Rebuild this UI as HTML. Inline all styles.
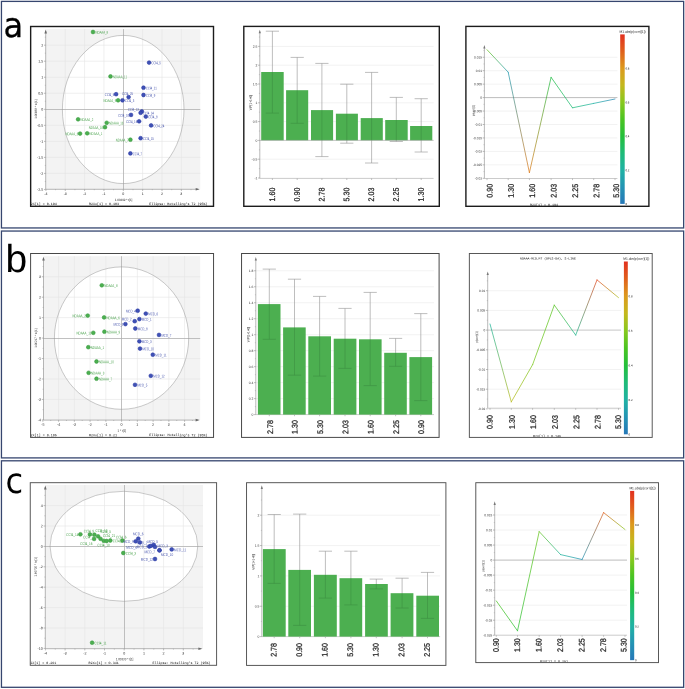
<!DOCTYPE html>
<html lang="en"><head><meta charset="utf-8"><title>OPLS-DA score plots, VIP and loading plots</title>
<style>
html,body{margin:0;padding:0;background:#fff;}
body{width:685px;height:689px;overflow:hidden;font-family:"Liberation Sans",sans-serif;}
svg{display:block;filter:blur(0.3px);}
text{text-rendering:geometricPrecision}
.s{font-family:"Liberation Sans",sans-serif}
.m{font-family:"Liberation Mono",monospace}
.d{font-family:"DejaVu Sans","Liberation Sans",sans-serif}
</style></head><body>
<svg width="685" height="689" viewBox="0 0 685 689">
<rect width="685" height="689" fill="#fff"/>
<rect x="1.45" y="1.4" width="682.2" height="226.55" fill="none" stroke="#36466f" stroke-width="1.3"/>
<rect x="1.45" y="231.05" width="682.2" height="226.85" fill="none" stroke="#36466f" stroke-width="1.3"/>
<rect x="1.45" y="460.8" width="682.2" height="226.5" fill="none" stroke="#36466f" stroke-width="1.3"/>
<text class="d" transform="translate(3.55 36.6) scale(0.942 1)" font-size="34.1" fill="#000" stroke="#000" stroke-width="0.3">a</text>
<text class="s" transform="translate(5.43 272.1)" font-size="38.96" fill="#000">b</text>
<text class="d" transform="translate(5.5 493.0) scale(0.905 1)" font-size="35.4" fill="#000">c</text>
<clipPath id="c1"><rect x="30.65" y="26.5" width="182.85" height="179.8"/></clipPath>
<rect x="45.7" y="29.1" width="154.6" height="160.2" fill="#f3f3f3"/>
<ellipse cx="123.2" cy="109.5" rx="60.8" ry="74.1" fill="#fff"/>
<path d="M65.25 29.1L65.25 189.3" stroke="#e4e4e4" stroke-width="0.6" />
<path d="M84.6 29.1L84.6 189.3" stroke="#e4e4e4" stroke-width="0.6" />
<path d="M103.95 29.1L103.95 189.3" stroke="#e4e4e4" stroke-width="0.6" />
<path d="M142.65 29.1L142.65 189.3" stroke="#e4e4e4" stroke-width="0.6" />
<path d="M162 29.1L162 189.3" stroke="#e4e4e4" stroke-width="0.6" />
<path d="M181.35 29.1L181.35 189.3" stroke="#e4e4e4" stroke-width="0.6" />
<path d="M45.7 173.42L200.3 173.42" stroke="#e4e4e4" stroke-width="0.6" />
<path d="M45.7 157.39L200.3 157.39" stroke="#e4e4e4" stroke-width="0.6" />
<path d="M45.7 141.36L200.3 141.36" stroke="#e4e4e4" stroke-width="0.6" />
<path d="M45.7 125.33L200.3 125.33" stroke="#e4e4e4" stroke-width="0.6" />
<path d="M45.7 93.27L200.3 93.27" stroke="#e4e4e4" stroke-width="0.6" />
<path d="M45.7 77.24L200.3 77.24" stroke="#e4e4e4" stroke-width="0.6" />
<path d="M45.7 61.21L200.3 61.21" stroke="#e4e4e4" stroke-width="0.6" />
<path d="M45.7 45.18L200.3 45.18" stroke="#e4e4e4" stroke-width="0.6" />
<path d="M123.5 29.1L123.5 189.3" stroke="#b0b0b0" stroke-width="0.8" />
<path d="M45.7 109.5L200.3 109.5" stroke="#b0b0b0" stroke-width="0.8" />
<ellipse cx="123.2" cy="109.5" rx="60.8" ry="74.1" fill="none" stroke="#949494" stroke-width="0.5"/>
<path d="M45.7 31.1L45.7 189.3" stroke="#909090" stroke-width="0.65" />
<path d="M45.7 189.3L198.3 189.3" stroke="#909090" stroke-width="0.65" />
<path d="M44.4 33.5L45.7 29.6L47 33.5Z" fill="#6a6a6a"/>
<path d="M195.7 188L199.7 189.3L195.7 190.6Z" fill="#6a6a6a"/>
<path d="M45.9 189.3L45.9 191" stroke="#909090" stroke-width="0.6" />
<text class="s" transform="translate(45.9 195) rotate(0.05)" font-size="3.6" fill="#222" text-anchor="middle" >-4</text>
<path d="M65.25 189.3L65.25 191" stroke="#909090" stroke-width="0.6" />
<text class="s" transform="translate(65.25 195) rotate(0.05)" font-size="3.6" fill="#222" text-anchor="middle" >-3</text>
<path d="M84.6 189.3L84.6 191" stroke="#909090" stroke-width="0.6" />
<text class="s" transform="translate(84.6 195) rotate(0.05)" font-size="3.6" fill="#222" text-anchor="middle" >-2</text>
<path d="M103.95 189.3L103.95 191" stroke="#909090" stroke-width="0.6" />
<text class="s" transform="translate(103.95 195) rotate(0.05)" font-size="3.6" fill="#222" text-anchor="middle" >-1</text>
<path d="M123.3 189.3L123.3 191" stroke="#909090" stroke-width="0.6" />
<text class="s" transform="translate(123.3 195) rotate(0.05)" font-size="3.6" fill="#222" text-anchor="middle" >0</text>
<path d="M142.65 189.3L142.65 191" stroke="#909090" stroke-width="0.6" />
<text class="s" transform="translate(142.65 195) rotate(0.05)" font-size="3.6" fill="#222" text-anchor="middle" >1</text>
<path d="M162 189.3L162 191" stroke="#909090" stroke-width="0.6" />
<text class="s" transform="translate(162 195) rotate(0.05)" font-size="3.6" fill="#222" text-anchor="middle" >2</text>
<path d="M181.35 189.3L181.35 191" stroke="#909090" stroke-width="0.6" />
<text class="s" transform="translate(181.35 195) rotate(0.05)" font-size="3.6" fill="#222" text-anchor="middle" >3</text>
<path d="M55.57 189.3L55.57 190.2" stroke="#909090" stroke-width="0.5" />
<path d="M74.92 189.3L74.92 190.2" stroke="#909090" stroke-width="0.5" />
<path d="M94.27 189.3L94.27 190.2" stroke="#909090" stroke-width="0.5" />
<path d="M113.62 189.3L113.62 190.2" stroke="#909090" stroke-width="0.5" />
<path d="M132.97 189.3L132.97 190.2" stroke="#909090" stroke-width="0.5" />
<path d="M152.32 189.3L152.32 190.2" stroke="#909090" stroke-width="0.5" />
<path d="M171.68 189.3L171.68 190.2" stroke="#909090" stroke-width="0.5" />
<path d="M191.03 189.3L191.03 190.2" stroke="#909090" stroke-width="0.5" />
<path d="M44 189.45L45.7 189.45" stroke="#909090" stroke-width="0.6" />
<text class="s" transform="translate(43.2 190.75) rotate(0.05)" font-size="3.6" fill="#222" text-anchor="end" >-2.5</text>
<path d="M44 173.42L45.7 173.42" stroke="#909090" stroke-width="0.6" />
<text class="s" transform="translate(43.2 174.72) rotate(0.05)" font-size="3.6" fill="#222" text-anchor="end" >-2</text>
<path d="M44 157.39L45.7 157.39" stroke="#909090" stroke-width="0.6" />
<text class="s" transform="translate(43.2 158.69) rotate(0.05)" font-size="3.6" fill="#222" text-anchor="end" >-1.5</text>
<path d="M44 141.36L45.7 141.36" stroke="#909090" stroke-width="0.6" />
<text class="s" transform="translate(43.2 142.66) rotate(0.05)" font-size="3.6" fill="#222" text-anchor="end" >-1</text>
<path d="M44 125.33L45.7 125.33" stroke="#909090" stroke-width="0.6" />
<text class="s" transform="translate(43.2 126.63) rotate(0.05)" font-size="3.6" fill="#222" text-anchor="end" >-0.5</text>
<path d="M44 109.3L45.7 109.3" stroke="#909090" stroke-width="0.6" />
<text class="s" transform="translate(43.2 110.6) rotate(0.05)" font-size="3.6" fill="#222" text-anchor="end" >0</text>
<path d="M44 93.27L45.7 93.27" stroke="#909090" stroke-width="0.6" />
<text class="s" transform="translate(43.2 94.57) rotate(0.05)" font-size="3.6" fill="#222" text-anchor="end" >0.5</text>
<path d="M44 77.24L45.7 77.24" stroke="#909090" stroke-width="0.6" />
<text class="s" transform="translate(43.2 78.54) rotate(0.05)" font-size="3.6" fill="#222" text-anchor="end" >1</text>
<path d="M44 61.21L45.7 61.21" stroke="#909090" stroke-width="0.6" />
<text class="s" transform="translate(43.2 62.51) rotate(0.05)" font-size="3.6" fill="#222" text-anchor="end" >1.5</text>
<path d="M44 45.18L45.7 45.18" stroke="#909090" stroke-width="0.6" />
<text class="s" transform="translate(43.2 46.48) rotate(0.05)" font-size="3.6" fill="#222" text-anchor="end" >2</text>
<path d="M44.8 181.44L45.7 181.44" stroke="#909090" stroke-width="0.5" />
<path d="M44.8 165.41L45.7 165.41" stroke="#909090" stroke-width="0.5" />
<path d="M44.8 149.38L45.7 149.38" stroke="#909090" stroke-width="0.5" />
<path d="M44.8 133.34L45.7 133.34" stroke="#909090" stroke-width="0.5" />
<path d="M44.8 117.31L45.7 117.31" stroke="#909090" stroke-width="0.5" />
<path d="M44.8 101.28L45.7 101.28" stroke="#909090" stroke-width="0.5" />
<path d="M44.8 85.25L45.7 85.25" stroke="#909090" stroke-width="0.5" />
<path d="M44.8 69.22L45.7 69.22" stroke="#909090" stroke-width="0.5" />
<path d="M44.8 53.19L45.7 53.19" stroke="#909090" stroke-width="0.5" />
<path d="M44.8 37.16L45.7 37.16" stroke="#909090" stroke-width="0.5" />
<circle cx="93.0" cy="32.0" r="1.9" fill="#4caf50" stroke="#379a3e" stroke-width="0.55"/>
<circle cx="110.5" cy="76.4" r="1.9" fill="#4caf50" stroke="#379a3e" stroke-width="0.55"/>
<circle cx="118.1" cy="100.3" r="1.9" fill="#4caf50" stroke="#379a3e" stroke-width="0.55"/>
<circle cx="78.1" cy="119.3" r="1.9" fill="#4caf50" stroke="#379a3e" stroke-width="0.55"/>
<circle cx="106.7" cy="122.8" r="1.9" fill="#4caf50" stroke="#379a3e" stroke-width="0.55"/>
<circle cx="105.0" cy="127.2" r="1.9" fill="#4caf50" stroke="#379a3e" stroke-width="0.55"/>
<circle cx="80.1" cy="133.6" r="1.9" fill="#4caf50" stroke="#379a3e" stroke-width="0.55"/>
<circle cx="87.2" cy="133.3" r="1.9" fill="#4caf50" stroke="#379a3e" stroke-width="0.55"/>
<circle cx="130.4" cy="139.7" r="1.9" fill="#4caf50" stroke="#379a3e" stroke-width="0.55"/>
<circle cx="149.1" cy="62.6" r="1.9" fill="#3f51b5" stroke="#2736a4" stroke-width="0.55"/>
<circle cx="143.5" cy="87.7" r="1.9" fill="#3f51b5" stroke="#2736a4" stroke-width="0.55"/>
<circle cx="143.5" cy="95.0" r="1.9" fill="#3f51b5" stroke="#2736a4" stroke-width="0.55"/>
<circle cx="116.1" cy="94.2" r="1.9" fill="#3f51b5" stroke="#2736a4" stroke-width="0.55"/>
<circle cx="128.6" cy="97.1" r="1.9" fill="#3f51b5" stroke="#2736a4" stroke-width="0.55"/>
<circle cx="122.5" cy="100.3" r="1.9" fill="#3f51b5" stroke="#2736a4" stroke-width="0.55"/>
<circle cx="141.8" cy="111.4" r="1.9" fill="#3f51b5" stroke="#2736a4" stroke-width="0.55"/>
<circle cx="140.6" cy="112.8" r="1.9" fill="#3f51b5" stroke="#2736a4" stroke-width="0.55"/>
<circle cx="131.0" cy="114.9" r="1.9" fill="#3f51b5" stroke="#2736a4" stroke-width="0.55"/>
<circle cx="145.8" cy="116.6" r="1.9" fill="#3f51b5" stroke="#2736a4" stroke-width="0.55"/>
<circle cx="139.1" cy="121.3" r="1.9" fill="#3f51b5" stroke="#2736a4" stroke-width="0.55"/>
<circle cx="151.1" cy="125.4" r="1.9" fill="#3f51b5" stroke="#2736a4" stroke-width="0.55"/>
<circle cx="140.6" cy="138.2" r="1.9" fill="#3f51b5" stroke="#2736a4" stroke-width="0.55"/>
<circle cx="130.4" cy="153.4" r="1.9" fill="#3f51b5" stroke="#2736a4" stroke-width="0.55"/>
<text class="s" transform="translate(95.4 33.75) rotate(0.05) scale(0.7 1)" font-size="4.0" fill="#4ba34e" >NDAAA_8</text>
<text class="s" transform="translate(112.9 78.15) rotate(0.05) scale(0.7 1)" font-size="4.0" fill="#4ba34e" >NDAAA_11</text>
<text class="s" transform="translate(116.2 102.05) rotate(0.05) scale(0.7 1)" font-size="4.0" fill="#4ba34e" text-anchor="end" >NDAAA_9</text>
<text class="s" transform="translate(80.5 121.05) rotate(0.05) scale(0.7 1)" font-size="4.0" fill="#4ba34e" >NDAAA_2</text>
<text class="s" transform="translate(109.1 124.55) rotate(0.05) scale(0.7 1)" font-size="4.0" fill="#4ba34e" >NDAAA_13</text>
<text class="s" transform="translate(103.1 128.95) rotate(0.05) scale(0.7 1)" font-size="4.0" fill="#4ba34e" text-anchor="end" >NDAAA_10</text>
<text class="s" transform="translate(78.2 135.35) rotate(0.05) scale(0.7 1)" font-size="4.0" fill="#4ba34e" text-anchor="end" >NDAAA_6</text>
<text class="s" transform="translate(89.6 135.05) rotate(0.05) scale(0.7 1)" font-size="4.0" fill="#4ba34e" >NDAAA_1</text>
<text class="s" transform="translate(128.5 141.45) rotate(0.05) scale(0.7 1)" font-size="4.0" fill="#4ba34e" text-anchor="end" >NDAAA_7</text>
<text class="s" transform="translate(151.5 64.35) rotate(0.05) scale(0.7 1)" font-size="4.0" fill="#4755ad" >CCl4_5</text>
<text class="s" transform="translate(145.9 89.45) rotate(0.05) scale(0.7 1)" font-size="4.0" fill="#4755ad" >CCl4_21</text>
<text class="s" transform="translate(145.9 96.75) rotate(0.05) scale(0.7 1)" font-size="4.0" fill="#4755ad" >CCl4_9</text>
<text class="s" transform="translate(114.2 95.95) rotate(0.05) scale(0.7 1)" font-size="4.0" fill="#4755ad" text-anchor="end" >CCl4_6</text>
<text class="s" transform="translate(127.6 95.1) rotate(0.05) scale(0.7 1)" font-size="4.0" fill="#4755ad" text-anchor="middle" >CCl4_25</text>
<text class="s" transform="translate(124.9 102.05) rotate(0.05) scale(0.7 1)" font-size="4.0" fill="#4755ad" >CCl4_3</text>
<text class="s" transform="translate(138.8 110.8) rotate(0.05) scale(0.7 1)" font-size="4.0" fill="#4755ad" text-anchor="end" >CCl4_13</text>
<text class="s" transform="translate(143 114.55) rotate(0.05) scale(0.7 1)" font-size="4.0" fill="#4755ad" >CCl4_14</text>
<text class="s" transform="translate(129.1 116.65) rotate(0.05) scale(0.7 1)" font-size="4.0" fill="#4755ad" text-anchor="end" >CCl4_10</text>
<text class="s" transform="translate(148.2 118.35) rotate(0.05) scale(0.7 1)" font-size="4.0" fill="#4755ad" >CCl4_8</text>
<text class="s" transform="translate(137.2 123.05) rotate(0.05) scale(0.7 1)" font-size="4.0" fill="#4755ad" text-anchor="end" >CCl4_16</text>
<text class="s" transform="translate(153.5 127.15) rotate(0.05) scale(0.7 1)" font-size="4.0" fill="#4755ad" >CCl4_24</text>
<text class="s" transform="translate(143 139.95) rotate(0.05) scale(0.7 1)" font-size="4.0" fill="#4755ad" >CCl4_15</text>
<text class="s" transform="translate(132.8 155.15) rotate(0.05) scale(0.7 1)" font-size="4.0" fill="#4755ad" >CCl4_7</text>
<text class="s" transform="translate(123.6 200.9) rotate(0.05) scale(0.9 1)" font-size="3.3" fill="#2a2a2a" text-anchor="middle" >1.00499 * t[1]</text>
<text class="s" transform="translate(37.05 109.2) rotate(-89.95) scale(0.9 1)" font-size="3.3" fill="#2a2a2a" text-anchor="middle" >1.00088 * to[1]</text>
<g clip-path="url(#c1)">
<text class="m" transform="translate(28.65 205.05) rotate(0.05)" font-size="3.35" fill="#000" >R2X[1] = 0.194</text>
<text class="m" transform="translate(88.95 205.05) rotate(0.05)" font-size="3.35" fill="#000" >R2Xo[1] = 0.103</text>
<text class="m" transform="translate(207.5 205.05) rotate(0.05)" font-size="3.35" fill="#000" text-anchor="end" >Ellipse: Hotelling's T2 (95%)</text>
</g>
<rect x="30.65" y="26.5" width="182.85" height="179.8" fill="none" stroke="#1c1c1c" stroke-width="1.4"/>
<path d="M259.8 159.2L433.6 159.2" stroke="#ececec" stroke-width="0.7" />
<path d="M259.8 140.4L433.6 140.4" stroke="#ececec" stroke-width="0.7" />
<path d="M259.8 121.6L433.6 121.6" stroke="#ececec" stroke-width="0.7" />
<path d="M259.8 102.8L433.6 102.8" stroke="#ececec" stroke-width="0.7" />
<path d="M259.8 84L433.6 84" stroke="#ececec" stroke-width="0.7" />
<path d="M259.8 65.2L433.6 65.2" stroke="#ececec" stroke-width="0.7" />
<path d="M259.8 46.4L433.6 46.4" stroke="#ececec" stroke-width="0.7" />
<path d="M259.8 31.7L259.8 178.4" stroke="#9c9c9c" stroke-width="0.7" />
<path d="M259.8 178.4L433.6 178.4" stroke="#b4b4b4" stroke-width="0.7" />
<path d="M258.7 33.3L259.8 29.7L260.9 33.3Z" fill="#777"/>
<path d="M258.1 178L259.8 178" stroke="#8a8a8a" stroke-width="0.6" />
<text class="s" transform="translate(257.4 179.25) rotate(0.05)" font-size="3.4" fill="#333" text-anchor="end" >-1</text>
<path d="M258.1 159.2L259.8 159.2" stroke="#8a8a8a" stroke-width="0.6" />
<text class="s" transform="translate(257.4 160.45) rotate(0.05)" font-size="3.4" fill="#333" text-anchor="end" >-0.5</text>
<path d="M258.1 140.4L259.8 140.4" stroke="#8a8a8a" stroke-width="0.6" />
<text class="s" transform="translate(257.4 141.65) rotate(0.05)" font-size="3.4" fill="#333" text-anchor="end" >0</text>
<path d="M258.1 121.6L259.8 121.6" stroke="#8a8a8a" stroke-width="0.6" />
<text class="s" transform="translate(257.4 122.85) rotate(0.05)" font-size="3.4" fill="#333" text-anchor="end" >0.5</text>
<path d="M258.1 102.8L259.8 102.8" stroke="#8a8a8a" stroke-width="0.6" />
<text class="s" transform="translate(257.4 104.05) rotate(0.05)" font-size="3.4" fill="#333" text-anchor="end" >1</text>
<path d="M258.1 84L259.8 84" stroke="#8a8a8a" stroke-width="0.6" />
<text class="s" transform="translate(257.4 85.25) rotate(0.05)" font-size="3.4" fill="#333" text-anchor="end" >1.5</text>
<path d="M258.1 65.2L259.8 65.2" stroke="#8a8a8a" stroke-width="0.6" />
<text class="s" transform="translate(257.4 66.45) rotate(0.05)" font-size="3.4" fill="#333" text-anchor="end" >2</text>
<path d="M258.1 46.4L259.8 46.4" stroke="#8a8a8a" stroke-width="0.6" />
<text class="s" transform="translate(257.4 47.65) rotate(0.05)" font-size="3.4" fill="#333" text-anchor="end" >2.5</text>
<path d="M258.9 168.6L259.8 168.6" stroke="#9a9a9a" stroke-width="0.5" />
<path d="M258.9 149.8L259.8 149.8" stroke="#9a9a9a" stroke-width="0.5" />
<path d="M258.9 131L259.8 131" stroke="#9a9a9a" stroke-width="0.5" />
<path d="M258.9 112.2L259.8 112.2" stroke="#9a9a9a" stroke-width="0.5" />
<path d="M258.9 93.4L259.8 93.4" stroke="#9a9a9a" stroke-width="0.5" />
<path d="M258.9 74.6L259.8 74.6" stroke="#9a9a9a" stroke-width="0.5" />
<path d="M258.9 55.8L259.8 55.8" stroke="#9a9a9a" stroke-width="0.5" />
<path d="M258.9 37L259.8 37" stroke="#9a9a9a" stroke-width="0.5" />
<rect x="261.2" y="72" width="22.5" height="68.4" fill="#4caf50"/>
<rect x="286.1" y="90.2" width="22.1" height="50.2" fill="#4caf50"/>
<rect x="311" y="110.1" width="22.1" height="30.3" fill="#4caf50"/>
<rect x="335.9" y="113.7" width="22" height="26.7" fill="#4caf50"/>
<rect x="360.7" y="118.1" width="22.1" height="22.3" fill="#4caf50"/>
<rect x="385.2" y="120" width="22.5" height="20.4" fill="#4caf50"/>
<rect x="410.1" y="126" width="22.2" height="14.4" fill="#4caf50"/>
<path d="M259.8 140.4L433.6 140.4" stroke="#a8a8a8" stroke-width="0.6" />
<path d="M272.4 31.2L272.4 72" stroke="#969696" stroke-width="0.62" />
<path d="M272.4 72L272.4 113.1" stroke="#3e9143" stroke-width="0.62" />
<path d="M265.8 31.2L279 31.2" stroke="#969696" stroke-width="0.62" />
<path d="M265.8 113.1L279 113.1" stroke="#3e9143" stroke-width="0.62" />
<path d="M297.2 57.4L297.2 90.2" stroke="#969696" stroke-width="0.62" />
<path d="M297.2 90.2L297.2 123.3" stroke="#3e9143" stroke-width="0.62" />
<path d="M290.6 57.4L303.8 57.4" stroke="#969696" stroke-width="0.62" />
<path d="M290.6 123.3L303.8 123.3" stroke="#3e9143" stroke-width="0.62" />
<path d="M321.9 63.4L321.9 110.1" stroke="#969696" stroke-width="0.62" />
<path d="M321.9 110.1L321.9 140.4" stroke="#3e9143" stroke-width="0.62" />
<path d="M321.9 140.4L321.9 156.6" stroke="#969696" stroke-width="0.62" />
<path d="M315.3 63.4L328.5 63.4" stroke="#969696" stroke-width="0.62" />
<path d="M315.3 156.6L328.5 156.6" stroke="#969696" stroke-width="0.62" />
<path d="M346.8 84.2L346.8 113.7" stroke="#969696" stroke-width="0.62" />
<path d="M346.8 113.7L346.8 140.4" stroke="#3e9143" stroke-width="0.62" />
<path d="M346.8 140.4L346.8 143.2" stroke="#969696" stroke-width="0.62" />
<path d="M340.2 84.2L353.4 84.2" stroke="#969696" stroke-width="0.62" />
<path d="M340.2 143.2L353.4 143.2" stroke="#969696" stroke-width="0.62" />
<path d="M371.6 72.4L371.6 118.1" stroke="#969696" stroke-width="0.62" />
<path d="M371.6 118.1L371.6 140.4" stroke="#3e9143" stroke-width="0.62" />
<path d="M371.6 140.4L371.6 163" stroke="#969696" stroke-width="0.62" />
<path d="M365 72.4L378.2 72.4" stroke="#969696" stroke-width="0.62" />
<path d="M365 163L378.2 163" stroke="#969696" stroke-width="0.62" />
<path d="M396.3 97.4L396.3 120" stroke="#969696" stroke-width="0.62" />
<path d="M396.3 120L396.3 140.4" stroke="#3e9143" stroke-width="0.62" />
<path d="M396.3 140.4L396.3 141.5" stroke="#969696" stroke-width="0.62" />
<path d="M389.7 97.4L402.9 97.4" stroke="#969696" stroke-width="0.62" />
<path d="M389.7 141.5L402.9 141.5" stroke="#969696" stroke-width="0.62" />
<path d="M421.2 98.7L421.2 126" stroke="#969696" stroke-width="0.62" />
<path d="M421.2 126L421.2 140.4" stroke="#3e9143" stroke-width="0.62" />
<path d="M421.2 140.4L421.2 152" stroke="#969696" stroke-width="0.62" />
<path d="M414.6 98.7L427.8 98.7" stroke="#969696" stroke-width="0.62" />
<path d="M414.6 152L427.8 152" stroke="#969696" stroke-width="0.62" />
<path d="M272.4 178.4L272.4 180" stroke="#9a9a9a" stroke-width="0.6" />
<text class="s" transform="translate(274.9 194.5) rotate(-89.95) scale(0.875 1)" font-size="8.1" fill="#2e2e2e" text-anchor="middle" stroke="#2e2e2e" stroke-width="0.3">1.60</text>
<path d="M297.2 178.4L297.2 180" stroke="#9a9a9a" stroke-width="0.6" />
<text class="s" transform="translate(299.7 194.5) rotate(-89.95) scale(0.875 1)" font-size="8.1" fill="#2e2e2e" text-anchor="middle" stroke="#2e2e2e" stroke-width="0.3">0.90</text>
<path d="M321.9 178.4L321.9 180" stroke="#9a9a9a" stroke-width="0.6" />
<text class="s" transform="translate(324.4 194.5) rotate(-89.95) scale(0.875 1)" font-size="8.1" fill="#2e2e2e" text-anchor="middle" stroke="#2e2e2e" stroke-width="0.3">2.78</text>
<path d="M346.8 178.4L346.8 180" stroke="#9a9a9a" stroke-width="0.6" />
<text class="s" transform="translate(349.3 194.5) rotate(-89.95) scale(0.875 1)" font-size="8.1" fill="#2e2e2e" text-anchor="middle" stroke="#2e2e2e" stroke-width="0.3">5.30</text>
<path d="M371.6 178.4L371.6 180" stroke="#9a9a9a" stroke-width="0.6" />
<text class="s" transform="translate(374.1 194.5) rotate(-89.95) scale(0.875 1)" font-size="8.1" fill="#2e2e2e" text-anchor="middle" stroke="#2e2e2e" stroke-width="0.3">2.03</text>
<path d="M396.3 178.4L396.3 180" stroke="#9a9a9a" stroke-width="0.6" />
<text class="s" transform="translate(398.8 194.5) rotate(-89.95) scale(0.875 1)" font-size="8.1" fill="#2e2e2e" text-anchor="middle" stroke="#2e2e2e" stroke-width="0.3">2.25</text>
<path d="M421.2 178.4L421.2 180" stroke="#9a9a9a" stroke-width="0.6" />
<text class="s" transform="translate(423.7 194.5) rotate(-89.95) scale(0.875 1)" font-size="8.1" fill="#2e2e2e" text-anchor="middle" stroke="#2e2e2e" stroke-width="0.3">1.30</text>
<text class="s" transform="translate(251.7 102.7) rotate(-89.95) scale(0.9 1)" font-size="3.4" fill="#222" text-anchor="middle" >VIP[1+1+0]</text>
<rect x="243.8" y="26.4" width="195.5" height="179.9" fill="none" stroke="#1c1c1c" stroke-width="1.4"/>
<clipPath id="c2"><rect x="465.9" y="26.4" width="183" height="179.9"/></clipPath>
<path d="M484.4 164.85L617.4 164.85" stroke="#ececec" stroke-width="0.7" />
<path d="M484.4 151.4L617.4 151.4" stroke="#ececec" stroke-width="0.7" />
<path d="M484.4 137.95L617.4 137.95" stroke="#ececec" stroke-width="0.7" />
<path d="M484.4 124.5L617.4 124.5" stroke="#ececec" stroke-width="0.7" />
<path d="M484.4 111.05L617.4 111.05" stroke="#ececec" stroke-width="0.7" />
<path d="M484.4 84.15L617.4 84.15" stroke="#ececec" stroke-width="0.7" />
<path d="M484.4 70.7L617.4 70.7" stroke="#ececec" stroke-width="0.7" />
<path d="M484.4 57.25L617.4 57.25" stroke="#ececec" stroke-width="0.7" />
<path d="M484.4 97.6L617.4 97.6" stroke="#a0a0a0" stroke-width="0.7" />
<path d="M484.4 46.9L484.4 178.5" stroke="#9c9c9c" stroke-width="0.7" />
<path d="M484.4 178.5L617.4 178.5" stroke="#b4b4b4" stroke-width="0.7" />
<path d="M483.3 48.5L484.4 44.9L485.5 48.5Z" fill="#777"/>
<path d="M482.7 178.3L484.4 178.3" stroke="#8a8a8a" stroke-width="0.6" />
<text class="s" transform="translate(482 179.5) rotate(0.05)" font-size="3.2" fill="#333" text-anchor="end" >-0.03</text>
<path d="M482.7 164.85L484.4 164.85" stroke="#8a8a8a" stroke-width="0.6" />
<text class="s" transform="translate(482 166.05) rotate(0.05)" font-size="3.2" fill="#333" text-anchor="end" >-0.025</text>
<path d="M482.7 151.4L484.4 151.4" stroke="#8a8a8a" stroke-width="0.6" />
<text class="s" transform="translate(482 152.6) rotate(0.05)" font-size="3.2" fill="#333" text-anchor="end" >-0.02</text>
<path d="M482.7 137.95L484.4 137.95" stroke="#8a8a8a" stroke-width="0.6" />
<text class="s" transform="translate(482 139.15) rotate(0.05)" font-size="3.2" fill="#333" text-anchor="end" >-0.015</text>
<path d="M482.7 124.5L484.4 124.5" stroke="#8a8a8a" stroke-width="0.6" />
<text class="s" transform="translate(482 125.7) rotate(0.05)" font-size="3.2" fill="#333" text-anchor="end" >-0.01</text>
<path d="M482.7 111.05L484.4 111.05" stroke="#8a8a8a" stroke-width="0.6" />
<text class="s" transform="translate(482 112.25) rotate(0.05)" font-size="3.2" fill="#333" text-anchor="end" >-0.005</text>
<path d="M482.7 97.6L484.4 97.6" stroke="#8a8a8a" stroke-width="0.6" />
<text class="s" transform="translate(482 98.8) rotate(0.05)" font-size="3.2" fill="#333" text-anchor="end" >0</text>
<path d="M482.7 84.15L484.4 84.15" stroke="#8a8a8a" stroke-width="0.6" />
<text class="s" transform="translate(482 85.35) rotate(0.05)" font-size="3.2" fill="#333" text-anchor="end" >0.005</text>
<path d="M482.7 70.7L484.4 70.7" stroke="#8a8a8a" stroke-width="0.6" />
<text class="s" transform="translate(482 71.9) rotate(0.05)" font-size="3.2" fill="#333" text-anchor="end" >0.01</text>
<path d="M482.7 57.25L484.4 57.25" stroke="#8a8a8a" stroke-width="0.6" />
<text class="s" transform="translate(482 58.45) rotate(0.05)" font-size="3.2" fill="#333" text-anchor="end" >0.015</text>
<path d="M483.5 171.57L484.4 171.57" stroke="#9a9a9a" stroke-width="0.5" />
<path d="M483.5 158.12L484.4 158.12" stroke="#9a9a9a" stroke-width="0.5" />
<path d="M483.5 144.68L484.4 144.68" stroke="#9a9a9a" stroke-width="0.5" />
<path d="M483.5 131.22L484.4 131.22" stroke="#9a9a9a" stroke-width="0.5" />
<path d="M483.5 117.77L484.4 117.77" stroke="#9a9a9a" stroke-width="0.5" />
<path d="M483.5 104.32L484.4 104.32" stroke="#9a9a9a" stroke-width="0.5" />
<path d="M483.5 90.88L484.4 90.88" stroke="#9a9a9a" stroke-width="0.5" />
<path d="M483.5 77.42L484.4 77.42" stroke="#9a9a9a" stroke-width="0.5" />
<path d="M483.5 63.97L484.4 63.97" stroke="#9a9a9a" stroke-width="0.5" />
<path d="M483.5 50.52L484.4 50.52" stroke="#9a9a9a" stroke-width="0.5" />
<linearGradient id="g1" gradientUnits="userSpaceOnUse" x1="487.0" y1="49.7" x2="508.2" y2="72.2"><stop offset="0" stop-color="#6ac620"/><stop offset="1" stop-color="#239ab1"/></linearGradient>
<path d="M487.0 49.7L508.2 72.2" stroke="url(#g1)" stroke-width="0.75" stroke-linecap="round"/>
<linearGradient id="g2" gradientUnits="userSpaceOnUse" x1="508.2" y1="72.2" x2="529.4" y2="172.6"><stop offset="0" stop-color="#239ab1"/><stop offset="1" stop-color="#de7d1d"/></linearGradient>
<path d="M508.2 72.2L529.4 172.6" stroke="url(#g2)" stroke-width="0.75" stroke-linecap="round"/>
<linearGradient id="g3" gradientUnits="userSpaceOnUse" x1="529.4" y1="172.6" x2="551.1" y2="77.3"><stop offset="0" stop-color="#de7d1d"/><stop offset="1" stop-color="#23be46"/></linearGradient>
<path d="M529.4 172.6L551.1 77.3" stroke="url(#g3)" stroke-width="0.75" stroke-linecap="round"/>
<linearGradient id="g4" gradientUnits="userSpaceOnUse" x1="551.1" y1="77.3" x2="572.5" y2="107.8"><stop offset="0" stop-color="#23be46"/><stop offset="1" stop-color="#1fbb78"/></linearGradient>
<path d="M551.1 77.3L572.5 107.8" stroke="url(#g4)" stroke-width="0.75" stroke-linecap="round"/>
<linearGradient id="g5" gradientUnits="userSpaceOnUse" x1="572.5" y1="107.8" x2="593.7" y2="103.4"><stop offset="0" stop-color="#1fbb78"/><stop offset="1" stop-color="#20b2a4"/></linearGradient>
<path d="M572.5 107.8L593.7 103.4" stroke="url(#g5)" stroke-width="0.75" stroke-linecap="round"/>
<linearGradient id="g6" gradientUnits="userSpaceOnUse" x1="593.7" y1="103.4" x2="615.0" y2="99.0"><stop offset="0" stop-color="#20b2a4"/><stop offset="1" stop-color="#2586b6"/></linearGradient>
<path d="M593.7 103.4L615.0 99.0" stroke="url(#g6)" stroke-width="0.75" stroke-linecap="round"/>
<path d="M487 178.5L487 180.1" stroke="#9a9a9a" stroke-width="0.6" />
<text class="s" transform="translate(492.5 190.8) rotate(-89.95) scale(0.875 1)" font-size="8.1" fill="#2e2e2e" text-anchor="middle" stroke="#2e2e2e" stroke-width="0.3">0.90</text>
<path d="M508.2 178.5L508.2 180.1" stroke="#9a9a9a" stroke-width="0.6" />
<text class="s" transform="translate(513.7 190.8) rotate(-89.95) scale(0.875 1)" font-size="8.1" fill="#2e2e2e" text-anchor="middle" stroke="#2e2e2e" stroke-width="0.3">1.30</text>
<path d="M529.4 178.5L529.4 180.1" stroke="#9a9a9a" stroke-width="0.6" />
<text class="s" transform="translate(534.9 190.8) rotate(-89.95) scale(0.875 1)" font-size="8.1" fill="#2e2e2e" text-anchor="middle" stroke="#2e2e2e" stroke-width="0.3">1.60</text>
<path d="M551.1 178.5L551.1 180.1" stroke="#9a9a9a" stroke-width="0.6" />
<text class="s" transform="translate(556.6 190.8) rotate(-89.95) scale(0.875 1)" font-size="8.1" fill="#2e2e2e" text-anchor="middle" stroke="#2e2e2e" stroke-width="0.3">2.03</text>
<path d="M572.5 178.5L572.5 180.1" stroke="#9a9a9a" stroke-width="0.6" />
<text class="s" transform="translate(578 190.8) rotate(-89.95) scale(0.875 1)" font-size="8.1" fill="#2e2e2e" text-anchor="middle" stroke="#2e2e2e" stroke-width="0.3">2.25</text>
<path d="M593.7 178.5L593.7 180.1" stroke="#9a9a9a" stroke-width="0.6" />
<text class="s" transform="translate(599.2 190.8) rotate(-89.95) scale(0.875 1)" font-size="8.1" fill="#2e2e2e" text-anchor="middle" stroke="#2e2e2e" stroke-width="0.3">2.78</text>
<path d="M615 178.5L615 180.1" stroke="#9a9a9a" stroke-width="0.6" />
<text class="s" transform="translate(619 190.8) rotate(-89.95) scale(0.875 1)" font-size="8.1" fill="#2e2e2e" text-anchor="middle" stroke="#2e2e2e" stroke-width="0.3">5.30</text>
<text class="s" transform="translate(474.4 110.5) rotate(-89.95) scale(0.9 1)" font-size="3.1" fill="#333" text-anchor="middle" >p(corr)[1]</text>
<linearGradient id="g7" x1="0" y1="0" x2="0" y2="1"><stop offset="0" stop-color="#e2301f"/><stop offset="0.1" stop-color="#e0601c"/><stop offset="0.2" stop-color="#dc9a1e"/><stop offset="0.3" stop-color="#c4b81e"/><stop offset="0.4" stop-color="#88c81e"/><stop offset="0.5" stop-color="#4cc422"/><stop offset="0.6" stop-color="#24bf3a"/><stop offset="0.7" stop-color="#1fbb78"/><stop offset="0.8" stop-color="#20b2a4"/><stop offset="0.9" stop-color="#2494b4"/><stop offset="1" stop-color="#2678b8"/></linearGradient>
<rect x="620.2" y="34.4" width="4.5" height="169.5" fill="url(#g7)"/>
<text class="s" transform="translate(625.4 69.5) rotate(0.05)" font-size="2.9" fill="#111" >0.8</text>
<text class="s" transform="translate(625.4 103.4) rotate(0.05)" font-size="2.9" fill="#111" >0.6</text>
<text class="s" transform="translate(625.4 137.3) rotate(0.05)" font-size="2.9" fill="#111" >0.4</text>
<text class="s" transform="translate(625.4 171.2) rotate(0.05)" font-size="2.9" fill="#111" >0.2</text>
<text class="s" transform="translate(625.4 205.1) rotate(0.05)" font-size="2.9" fill="#111" >0</text>
<text class="s" transform="translate(619.5 32.7) rotate(0.05) scale(0.95 1)" font-size="3.45" fill="#111" >M1.abs(p(corr)[1])</text>
<g clip-path="url(#c2)">
<text class="m" transform="translate(530 206.1) rotate(0.05)" font-size="3.35" fill="#000" >R2X[1] = 0.194</text>
</g>
<rect x="465.9" y="26.4" width="183" height="179.9" fill="none" stroke="#1c1c1c" stroke-width="1.4"/>
<clipPath id="c3"><rect x="30.6" y="253.5" width="182.95" height="183.9"/></clipPath>
<rect x="43.5" y="256.2" width="156.7" height="163.9" fill="#f3f3f3"/>
<ellipse cx="121.55" cy="338.1" rx="67.15" ry="71.2" fill="#fff"/>
<path d="M58.6 256.2L58.6 420.1" stroke="#e4e4e4" stroke-width="0.6" />
<path d="M74.35 256.2L74.35 420.1" stroke="#e4e4e4" stroke-width="0.6" />
<path d="M90.1 256.2L90.1 420.1" stroke="#e4e4e4" stroke-width="0.6" />
<path d="M105.85 256.2L105.85 420.1" stroke="#e4e4e4" stroke-width="0.6" />
<path d="M137.35 256.2L137.35 420.1" stroke="#e4e4e4" stroke-width="0.6" />
<path d="M153.1 256.2L153.1 420.1" stroke="#e4e4e4" stroke-width="0.6" />
<path d="M168.85 256.2L168.85 420.1" stroke="#e4e4e4" stroke-width="0.6" />
<path d="M184.6 256.2L184.6 420.1" stroke="#e4e4e4" stroke-width="0.6" />
<path d="M43.5 399.45L200.2 399.45" stroke="#e4e4e4" stroke-width="0.6" />
<path d="M43.5 379L200.2 379" stroke="#e4e4e4" stroke-width="0.6" />
<path d="M43.5 358.55L200.2 358.55" stroke="#e4e4e4" stroke-width="0.6" />
<path d="M43.5 317.65L200.2 317.65" stroke="#e4e4e4" stroke-width="0.6" />
<path d="M43.5 297.2L200.2 297.2" stroke="#e4e4e4" stroke-width="0.6" />
<path d="M43.5 276.75L200.2 276.75" stroke="#e4e4e4" stroke-width="0.6" />
<path d="M121.5 256.2L121.5 420.1" stroke="#b0b0b0" stroke-width="0.8" />
<path d="M43.5 338.5L200.2 338.5" stroke="#b0b0b0" stroke-width="0.8" />
<ellipse cx="121.55" cy="338.1" rx="67.15" ry="71.2" fill="none" stroke="#949494" stroke-width="0.5"/>
<path d="M43.5 258.2L43.5 420.1" stroke="#909090" stroke-width="0.65" />
<path d="M43.5 420.1L198.2 420.1" stroke="#909090" stroke-width="0.65" />
<path d="M42.2 260.6L43.5 256.7L44.8 260.6Z" fill="#6a6a6a"/>
<path d="M195.6 418.8L199.6 420.1L195.6 421.4Z" fill="#6a6a6a"/>
<path d="M42.85 420.1L42.85 421.8" stroke="#909090" stroke-width="0.6" />
<text class="s" transform="translate(42.85 425.8) rotate(0.05)" font-size="3.6" fill="#222" text-anchor="middle" >-5</text>
<path d="M58.6 420.1L58.6 421.8" stroke="#909090" stroke-width="0.6" />
<text class="s" transform="translate(58.6 425.8) rotate(0.05)" font-size="3.6" fill="#222" text-anchor="middle" >-4</text>
<path d="M74.35 420.1L74.35 421.8" stroke="#909090" stroke-width="0.6" />
<text class="s" transform="translate(74.35 425.8) rotate(0.05)" font-size="3.6" fill="#222" text-anchor="middle" >-3</text>
<path d="M90.1 420.1L90.1 421.8" stroke="#909090" stroke-width="0.6" />
<text class="s" transform="translate(90.1 425.8) rotate(0.05)" font-size="3.6" fill="#222" text-anchor="middle" >-2</text>
<path d="M105.85 420.1L105.85 421.8" stroke="#909090" stroke-width="0.6" />
<text class="s" transform="translate(105.85 425.8) rotate(0.05)" font-size="3.6" fill="#222" text-anchor="middle" >-1</text>
<path d="M121.6 420.1L121.6 421.8" stroke="#909090" stroke-width="0.6" />
<text class="s" transform="translate(121.6 425.8) rotate(0.05)" font-size="3.6" fill="#222" text-anchor="middle" >0</text>
<path d="M137.35 420.1L137.35 421.8" stroke="#909090" stroke-width="0.6" />
<text class="s" transform="translate(137.35 425.8) rotate(0.05)" font-size="3.6" fill="#222" text-anchor="middle" >1</text>
<path d="M153.1 420.1L153.1 421.8" stroke="#909090" stroke-width="0.6" />
<text class="s" transform="translate(153.1 425.8) rotate(0.05)" font-size="3.6" fill="#222" text-anchor="middle" >2</text>
<path d="M168.85 420.1L168.85 421.8" stroke="#909090" stroke-width="0.6" />
<text class="s" transform="translate(168.85 425.8) rotate(0.05)" font-size="3.6" fill="#222" text-anchor="middle" >3</text>
<path d="M184.6 420.1L184.6 421.8" stroke="#909090" stroke-width="0.6" />
<text class="s" transform="translate(184.6 425.8) rotate(0.05)" font-size="3.6" fill="#222" text-anchor="middle" >4</text>
<path d="M50.72 420.1L50.72 421" stroke="#909090" stroke-width="0.5" />
<path d="M66.47 420.1L66.47 421" stroke="#909090" stroke-width="0.5" />
<path d="M82.22 420.1L82.22 421" stroke="#909090" stroke-width="0.5" />
<path d="M97.97 420.1L97.97 421" stroke="#909090" stroke-width="0.5" />
<path d="M113.72 420.1L113.72 421" stroke="#909090" stroke-width="0.5" />
<path d="M129.47 420.1L129.47 421" stroke="#909090" stroke-width="0.5" />
<path d="M145.22 420.1L145.22 421" stroke="#909090" stroke-width="0.5" />
<path d="M160.97 420.1L160.97 421" stroke="#909090" stroke-width="0.5" />
<path d="M176.72 420.1L176.72 421" stroke="#909090" stroke-width="0.5" />
<path d="M192.47 420.1L192.47 421" stroke="#909090" stroke-width="0.5" />
<path d="M41.8 419.9L43.5 419.9" stroke="#909090" stroke-width="0.6" />
<text class="s" transform="translate(41 421.2) rotate(0.05)" font-size="3.6" fill="#222" text-anchor="end" >-4</text>
<path d="M41.8 399.45L43.5 399.45" stroke="#909090" stroke-width="0.6" />
<text class="s" transform="translate(41 400.75) rotate(0.05)" font-size="3.6" fill="#222" text-anchor="end" >-3</text>
<path d="M41.8 379L43.5 379" stroke="#909090" stroke-width="0.6" />
<text class="s" transform="translate(41 380.3) rotate(0.05)" font-size="3.6" fill="#222" text-anchor="end" >-2</text>
<path d="M41.8 358.55L43.5 358.55" stroke="#909090" stroke-width="0.6" />
<text class="s" transform="translate(41 359.85) rotate(0.05)" font-size="3.6" fill="#222" text-anchor="end" >-1</text>
<path d="M41.8 338.1L43.5 338.1" stroke="#909090" stroke-width="0.6" />
<text class="s" transform="translate(41 339.4) rotate(0.05)" font-size="3.6" fill="#222" text-anchor="end" >0</text>
<path d="M41.8 317.65L43.5 317.65" stroke="#909090" stroke-width="0.6" />
<text class="s" transform="translate(41 318.95) rotate(0.05)" font-size="3.6" fill="#222" text-anchor="end" >1</text>
<path d="M41.8 297.2L43.5 297.2" stroke="#909090" stroke-width="0.6" />
<text class="s" transform="translate(41 298.5) rotate(0.05)" font-size="3.6" fill="#222" text-anchor="end" >2</text>
<path d="M41.8 276.75L43.5 276.75" stroke="#909090" stroke-width="0.6" />
<text class="s" transform="translate(41 278.05) rotate(0.05)" font-size="3.6" fill="#222" text-anchor="end" >3</text>
<path d="M42.6 409.68L43.5 409.68" stroke="#909090" stroke-width="0.5" />
<path d="M42.6 389.23L43.5 389.23" stroke="#909090" stroke-width="0.5" />
<path d="M42.6 368.78L43.5 368.78" stroke="#909090" stroke-width="0.5" />
<path d="M42.6 348.33L43.5 348.33" stroke="#909090" stroke-width="0.5" />
<path d="M42.6 327.88L43.5 327.88" stroke="#909090" stroke-width="0.5" />
<path d="M42.6 307.43L43.5 307.43" stroke="#909090" stroke-width="0.5" />
<path d="M42.6 286.98L43.5 286.98" stroke="#909090" stroke-width="0.5" />
<path d="M42.6 266.53L43.5 266.53" stroke="#909090" stroke-width="0.5" />
<circle cx="101.8" cy="285.3" r="1.9" fill="#4caf50" stroke="#379a3e" stroke-width="0.55"/>
<circle cx="87.7" cy="315.6" r="1.9" fill="#4caf50" stroke="#379a3e" stroke-width="0.55"/>
<circle cx="104.1" cy="317.4" r="1.9" fill="#4caf50" stroke="#379a3e" stroke-width="0.55"/>
<circle cx="93.3" cy="332.8" r="1.9" fill="#4caf50" stroke="#379a3e" stroke-width="0.55"/>
<circle cx="104.4" cy="331.7" r="1.9" fill="#4caf50" stroke="#379a3e" stroke-width="0.55"/>
<circle cx="88.3" cy="347.2" r="1.9" fill="#4caf50" stroke="#379a3e" stroke-width="0.55"/>
<circle cx="96.5" cy="361.5" r="1.9" fill="#4caf50" stroke="#379a3e" stroke-width="0.55"/>
<circle cx="88.6" cy="372.8" r="1.9" fill="#4caf50" stroke="#379a3e" stroke-width="0.55"/>
<circle cx="96.5" cy="378.7" r="1.9" fill="#4caf50" stroke="#379a3e" stroke-width="0.55"/>
<circle cx="137.7" cy="310.7" r="1.9" fill="#3f51b5" stroke="#2736a4" stroke-width="0.55"/>
<circle cx="145.8" cy="313.6" r="1.9" fill="#3f51b5" stroke="#2736a4" stroke-width="0.55"/>
<circle cx="139.4" cy="319.1" r="1.9" fill="#3f51b5" stroke="#2736a4" stroke-width="0.55"/>
<circle cx="134.7" cy="321.2" r="1.9" fill="#3f51b5" stroke="#2736a4" stroke-width="0.55"/>
<circle cx="125.4" cy="324.1" r="1.9" fill="#3f51b5" stroke="#2736a4" stroke-width="0.55"/>
<circle cx="135.3" cy="328.5" r="1.9" fill="#3f51b5" stroke="#2736a4" stroke-width="0.55"/>
<circle cx="159.0" cy="334.9" r="1.9" fill="#3f51b5" stroke="#2736a4" stroke-width="0.55"/>
<circle cx="139.4" cy="341.3" r="1.9" fill="#3f51b5" stroke="#2736a4" stroke-width="0.55"/>
<circle cx="140.0" cy="348.6" r="1.9" fill="#3f51b5" stroke="#2736a4" stroke-width="0.55"/>
<circle cx="152.8" cy="354.7" r="1.9" fill="#3f51b5" stroke="#2736a4" stroke-width="0.55"/>
<circle cx="150.8" cy="375.8" r="1.9" fill="#3f51b5" stroke="#2736a4" stroke-width="0.55"/>
<circle cx="135.0" cy="384.8" r="1.9" fill="#3f51b5" stroke="#2736a4" stroke-width="0.55"/>
<text class="s" transform="translate(104.2 287.05) rotate(0.05) scale(0.73 1)" font-size="4.0" fill="#4ba34e" >NDAAA_8</text>
<text class="s" transform="translate(85.8 317.35) rotate(0.05) scale(0.73 1)" font-size="4.0" fill="#4ba34e" text-anchor="end" >NDAAA_2</text>
<text class="s" transform="translate(106.5 319.15) rotate(0.05) scale(0.73 1)" font-size="4.0" fill="#4ba34e" >NDAAA_6</text>
<text class="s" transform="translate(91.4 334.55) rotate(0.05) scale(0.73 1)" font-size="4.0" fill="#4ba34e" text-anchor="end" >NDAAA_13</text>
<text class="s" transform="translate(106.8 333.45) rotate(0.05) scale(0.73 1)" font-size="4.0" fill="#4ba34e" >NDAAA_9</text>
<text class="s" transform="translate(90.7 348.95) rotate(0.05) scale(0.73 1)" font-size="4.0" fill="#4ba34e" >NDAAA_1</text>
<text class="s" transform="translate(98.9 363.25) rotate(0.05) scale(0.73 1)" font-size="4.0" fill="#4ba34e" >NDAAA_10</text>
<text class="s" transform="translate(91 374.55) rotate(0.05) scale(0.73 1)" font-size="4.0" fill="#4ba34e" >NDAAA_3</text>
<text class="s" transform="translate(98.9 380.45) rotate(0.05) scale(0.73 1)" font-size="4.0" fill="#4ba34e" >NDAAA_7</text>
<text class="s" transform="translate(135.8 312.45) rotate(0.05) scale(0.73 1)" font-size="4.0" fill="#4755ad" text-anchor="end" >MCD_4</text>
<text class="s" transform="translate(148.2 315.35) rotate(0.05) scale(0.73 1)" font-size="4.0" fill="#4755ad" >MCD_6</text>
<text class="s" transform="translate(141.8 320.85) rotate(0.05) scale(0.73 1)" font-size="4.0" fill="#4755ad" >MCD_1</text>
<text class="s" transform="translate(131.7 320.6) rotate(0.05) scale(0.73 1)" font-size="4.0" fill="#4755ad" text-anchor="end" >MCD_2</text>
<text class="s" transform="translate(123.5 325.85) rotate(0.05) scale(0.73 1)" font-size="4.0" fill="#4755ad" text-anchor="end" >MCD_9</text>
<text class="s" transform="translate(137.7 330.25) rotate(0.05) scale(0.73 1)" font-size="4.0" fill="#4755ad" >MCD_8</text>
<text class="s" transform="translate(161.4 336.65) rotate(0.05) scale(0.73 1)" font-size="4.0" fill="#4755ad" >MCD_7</text>
<text class="s" transform="translate(141.8 343.05) rotate(0.05) scale(0.73 1)" font-size="4.0" fill="#4755ad" >MCD_3</text>
<text class="s" transform="translate(142.4 350.35) rotate(0.05) scale(0.73 1)" font-size="4.0" fill="#4755ad" >MCD_10</text>
<text class="s" transform="translate(155.2 356.45) rotate(0.05) scale(0.73 1)" font-size="4.0" fill="#4755ad" >MCD_11</text>
<text class="s" transform="translate(153.2 377.55) rotate(0.05) scale(0.73 1)" font-size="4.0" fill="#4755ad" >MCD_12</text>
<text class="s" transform="translate(137.4 386.55) rotate(0.05) scale(0.73 1)" font-size="4.0" fill="#4755ad" >MCD_5</text>
<text class="s" transform="translate(121.9 431.7) rotate(0.05) scale(0.9 1)" font-size="3.3" fill="#2a2a2a" text-anchor="middle" >1 * t[1]</text>
<text class="s" transform="translate(37 338.15) rotate(-89.95) scale(0.9 1)" font-size="3.3" fill="#2a2a2a" text-anchor="middle" >1.00217 * to[1]</text>
<g clip-path="url(#c3)">
<text class="m" transform="translate(28.6 436.15) rotate(0.05)" font-size="3.35" fill="#000" >R2X[1] = 0.106</text>
<text class="m" transform="translate(88.9 436.15) rotate(0.05)" font-size="3.35" fill="#000" >R2Xo[1] = 0.21</text>
<text class="m" transform="translate(207.55 436.15) rotate(0.05)" font-size="3.35" fill="#000" text-anchor="end" >Ellipse: Hotelling's T2 (95%)</text>
</g>
<rect x="30.6" y="253.5" width="182.95" height="183.9" fill="none" stroke="#484848" stroke-width="1.0"/>
<path d="M255.8 398.62L434 398.62" stroke="#ececec" stroke-width="0.7" />
<path d="M255.8 382.64L434 382.64" stroke="#ececec" stroke-width="0.7" />
<path d="M255.8 366.66L434 366.66" stroke="#ececec" stroke-width="0.7" />
<path d="M255.8 350.68L434 350.68" stroke="#ececec" stroke-width="0.7" />
<path d="M255.8 334.7L434 334.7" stroke="#ececec" stroke-width="0.7" />
<path d="M255.8 318.72L434 318.72" stroke="#ececec" stroke-width="0.7" />
<path d="M255.8 302.74L434 302.74" stroke="#ececec" stroke-width="0.7" />
<path d="M255.8 286.76L434 286.76" stroke="#ececec" stroke-width="0.7" />
<path d="M255.8 270.78L434 270.78" stroke="#ececec" stroke-width="0.7" />
<path d="M255.8 259L255.8 414.6" stroke="#9c9c9c" stroke-width="0.7" />
<path d="M255.8 414.6L434 414.6" stroke="#b4b4b4" stroke-width="0.7" />
<path d="M254.7 260.6L255.8 257L256.9 260.6Z" fill="#777"/>
<path d="M254.1 414.6L255.8 414.6" stroke="#8a8a8a" stroke-width="0.6" />
<text class="s" transform="translate(253.4 415.85) rotate(0.05)" font-size="3.4" fill="#333" text-anchor="end" >0</text>
<path d="M254.1 398.62L255.8 398.62" stroke="#8a8a8a" stroke-width="0.6" />
<text class="s" transform="translate(253.4 399.87) rotate(0.05)" font-size="3.4" fill="#333" text-anchor="end" >0.2</text>
<path d="M254.1 382.64L255.8 382.64" stroke="#8a8a8a" stroke-width="0.6" />
<text class="s" transform="translate(253.4 383.89) rotate(0.05)" font-size="3.4" fill="#333" text-anchor="end" >0.4</text>
<path d="M254.1 366.66L255.8 366.66" stroke="#8a8a8a" stroke-width="0.6" />
<text class="s" transform="translate(253.4 367.91) rotate(0.05)" font-size="3.4" fill="#333" text-anchor="end" >0.6</text>
<path d="M254.1 350.68L255.8 350.68" stroke="#8a8a8a" stroke-width="0.6" />
<text class="s" transform="translate(253.4 351.93) rotate(0.05)" font-size="3.4" fill="#333" text-anchor="end" >0.8</text>
<path d="M254.1 334.7L255.8 334.7" stroke="#8a8a8a" stroke-width="0.6" />
<text class="s" transform="translate(253.4 335.95) rotate(0.05)" font-size="3.4" fill="#333" text-anchor="end" >1</text>
<path d="M254.1 318.72L255.8 318.72" stroke="#8a8a8a" stroke-width="0.6" />
<text class="s" transform="translate(253.4 319.97) rotate(0.05)" font-size="3.4" fill="#333" text-anchor="end" >1.2</text>
<path d="M254.1 302.74L255.8 302.74" stroke="#8a8a8a" stroke-width="0.6" />
<text class="s" transform="translate(253.4 303.99) rotate(0.05)" font-size="3.4" fill="#333" text-anchor="end" >1.4</text>
<path d="M254.1 286.76L255.8 286.76" stroke="#8a8a8a" stroke-width="0.6" />
<text class="s" transform="translate(253.4 288.01) rotate(0.05)" font-size="3.4" fill="#333" text-anchor="end" >1.6</text>
<path d="M254.1 270.78L255.8 270.78" stroke="#8a8a8a" stroke-width="0.6" />
<text class="s" transform="translate(253.4 272.03) rotate(0.05)" font-size="3.4" fill="#333" text-anchor="end" >1.8</text>
<path d="M254.9 406.61L255.8 406.61" stroke="#9a9a9a" stroke-width="0.5" />
<path d="M254.9 390.63L255.8 390.63" stroke="#9a9a9a" stroke-width="0.5" />
<path d="M254.9 374.65L255.8 374.65" stroke="#9a9a9a" stroke-width="0.5" />
<path d="M254.9 358.67L255.8 358.67" stroke="#9a9a9a" stroke-width="0.5" />
<path d="M254.9 342.69L255.8 342.69" stroke="#9a9a9a" stroke-width="0.5" />
<path d="M254.9 326.71L255.8 326.71" stroke="#9a9a9a" stroke-width="0.5" />
<path d="M254.9 310.73L255.8 310.73" stroke="#9a9a9a" stroke-width="0.5" />
<path d="M254.9 294.75L255.8 294.75" stroke="#9a9a9a" stroke-width="0.5" />
<path d="M254.9 278.77L255.8 278.77" stroke="#9a9a9a" stroke-width="0.5" />
<rect x="257.9" y="304.1" width="22.6" height="110.5" fill="#4caf50"/>
<rect x="283.1" y="327.4" width="22.6" height="87.2" fill="#4caf50"/>
<rect x="308.3" y="336.3" width="22.7" height="78.3" fill="#4caf50"/>
<rect x="333.7" y="338.7" width="22.7" height="75.9" fill="#4caf50"/>
<rect x="359" y="339.3" width="22.6" height="75.3" fill="#4caf50"/>
<rect x="384.2" y="352.8" width="22.6" height="61.8" fill="#4caf50"/>
<rect x="409.4" y="357.1" width="22.7" height="57.5" fill="#4caf50"/>
<path d="M269.3 269.1L269.3 304.1" stroke="#969696" stroke-width="0.62" />
<path d="M269.3 304.1L269.3 339.3" stroke="#3e9143" stroke-width="0.62" />
<path d="M262.7 269.1L275.9 269.1" stroke="#969696" stroke-width="0.62" />
<path d="M262.7 339.3L275.9 339.3" stroke="#3e9143" stroke-width="0.62" />
<path d="M294.5 279.2L294.5 327.4" stroke="#969696" stroke-width="0.62" />
<path d="M294.5 327.4L294.5 375.2" stroke="#3e9143" stroke-width="0.62" />
<path d="M287.9 279.2L301.1 279.2" stroke="#969696" stroke-width="0.62" />
<path d="M287.9 375.2L301.1 375.2" stroke="#3e9143" stroke-width="0.62" />
<path d="M319.6 296.4L319.6 336.3" stroke="#969696" stroke-width="0.62" />
<path d="M319.6 336.3L319.6 376.1" stroke="#3e9143" stroke-width="0.62" />
<path d="M313 296.4L326.2 296.4" stroke="#969696" stroke-width="0.62" />
<path d="M313 376.1L326.2 376.1" stroke="#3e9143" stroke-width="0.62" />
<path d="M345 308.4L345 338.7" stroke="#969696" stroke-width="0.62" />
<path d="M345 338.7L345 368.4" stroke="#3e9143" stroke-width="0.62" />
<path d="M338.4 308.4L351.6 308.4" stroke="#969696" stroke-width="0.62" />
<path d="M338.4 368.4L351.6 368.4" stroke="#3e9143" stroke-width="0.62" />
<path d="M370.2 292.4L370.2 339.3" stroke="#969696" stroke-width="0.62" />
<path d="M370.2 339.3L370.2 385.6" stroke="#3e9143" stroke-width="0.62" />
<path d="M363.6 292.4L376.8 292.4" stroke="#969696" stroke-width="0.62" />
<path d="M363.6 385.6L376.8 385.6" stroke="#3e9143" stroke-width="0.62" />
<path d="M395.6 338.4L395.6 352.8" stroke="#969696" stroke-width="0.62" />
<path d="M395.6 352.8L395.6 366.3" stroke="#3e9143" stroke-width="0.62" />
<path d="M389 338.4L402.2 338.4" stroke="#969696" stroke-width="0.62" />
<path d="M389 366.3L402.2 366.3" stroke="#3e9143" stroke-width="0.62" />
<path d="M420.8 313.6L420.8 357.1" stroke="#969696" stroke-width="0.62" />
<path d="M420.8 357.1L420.8 400.6" stroke="#3e9143" stroke-width="0.62" />
<path d="M414.2 313.6L427.4 313.6" stroke="#969696" stroke-width="0.62" />
<path d="M414.2 400.6L427.4 400.6" stroke="#3e9143" stroke-width="0.62" />
<path d="M269.3 414.6L269.3 416.2" stroke="#9a9a9a" stroke-width="0.6" />
<text class="s" transform="translate(272.9 427) rotate(-89.95) scale(0.875 1)" font-size="8.1" fill="#2e2e2e" text-anchor="middle" stroke="#2e2e2e" stroke-width="0.3">2.78</text>
<path d="M294.5 414.6L294.5 416.2" stroke="#9a9a9a" stroke-width="0.6" />
<text class="s" transform="translate(297.5 427) rotate(-89.95) scale(0.875 1)" font-size="8.1" fill="#2e2e2e" text-anchor="middle" stroke="#2e2e2e" stroke-width="0.3">1.30</text>
<path d="M319.6 414.6L319.6 416.2" stroke="#9a9a9a" stroke-width="0.6" />
<text class="s" transform="translate(322.9 427) rotate(-89.95) scale(0.875 1)" font-size="8.1" fill="#2e2e2e" text-anchor="middle" stroke="#2e2e2e" stroke-width="0.3">5.30</text>
<path d="M345 414.6L345 416.2" stroke="#9a9a9a" stroke-width="0.6" />
<text class="s" transform="translate(348.3 427) rotate(-89.95) scale(0.875 1)" font-size="8.1" fill="#2e2e2e" text-anchor="middle" stroke="#2e2e2e" stroke-width="0.3">2.03</text>
<path d="M370.2 414.6L370.2 416.2" stroke="#9a9a9a" stroke-width="0.6" />
<text class="s" transform="translate(373.5 427) rotate(-89.95) scale(0.875 1)" font-size="8.1" fill="#2e2e2e" text-anchor="middle" stroke="#2e2e2e" stroke-width="0.3">1.60</text>
<path d="M395.6 414.6L395.6 416.2" stroke="#9a9a9a" stroke-width="0.6" />
<text class="s" transform="translate(398.9 427) rotate(-89.95) scale(0.875 1)" font-size="8.1" fill="#2e2e2e" text-anchor="middle" stroke="#2e2e2e" stroke-width="0.3">2.25</text>
<path d="M420.8 414.6L420.8 416.2" stroke="#9a9a9a" stroke-width="0.6" />
<text class="s" transform="translate(424.1 427) rotate(-89.95) scale(0.875 1)" font-size="8.1" fill="#2e2e2e" text-anchor="middle" stroke="#2e2e2e" stroke-width="0.3">0.90</text>
<text class="s" transform="translate(249.45 334.5) rotate(-89.95) scale(0.9 1)" font-size="3.4" fill="#222" text-anchor="middle" >VIP[1+1+0]</text>
<rect x="241.55" y="253.5" width="197.55" height="183.9" fill="none" stroke="#484848" stroke-width="1.0"/>
<clipPath id="c4"><rect x="469.35" y="253.5" width="182.85" height="183.9"/></clipPath>
<path d="M487.7 408.9L621 408.9" stroke="#ececec" stroke-width="0.7" />
<path d="M487.7 389.2L621 389.2" stroke="#ececec" stroke-width="0.7" />
<path d="M487.7 369.5L621 369.5" stroke="#ececec" stroke-width="0.7" />
<path d="M487.7 349.8L621 349.8" stroke="#ececec" stroke-width="0.7" />
<path d="M487.7 310.4L621 310.4" stroke="#ececec" stroke-width="0.7" />
<path d="M487.7 290.7L621 290.7" stroke="#ececec" stroke-width="0.7" />
<path d="M487.7 330.1L621 330.1" stroke="#d2d2d2" stroke-width="1.3" />
<path d="M487.7 273.5L487.7 408.2" stroke="#9c9c9c" stroke-width="0.7" />
<path d="M487.7 408.2L621 408.2" stroke="#b4b4b4" stroke-width="0.7" />
<path d="M486.6 275.1L487.7 271.5L488.8 275.1Z" fill="#777"/>
<path d="M486 408.9L487.7 408.9" stroke="#8a8a8a" stroke-width="0.6" />
<text class="s" transform="translate(485.3 410.1) rotate(0.05)" font-size="3.2" fill="#333" text-anchor="end" >-0.02</text>
<path d="M486 389.2L487.7 389.2" stroke="#8a8a8a" stroke-width="0.6" />
<text class="s" transform="translate(485.3 390.4) rotate(0.05)" font-size="3.2" fill="#333" text-anchor="end" >-0.015</text>
<path d="M486 369.5L487.7 369.5" stroke="#8a8a8a" stroke-width="0.6" />
<text class="s" transform="translate(485.3 370.7) rotate(0.05)" font-size="3.2" fill="#333" text-anchor="end" >-0.01</text>
<path d="M486 349.8L487.7 349.8" stroke="#8a8a8a" stroke-width="0.6" />
<text class="s" transform="translate(485.3 351) rotate(0.05)" font-size="3.2" fill="#333" text-anchor="end" >-0.005</text>
<path d="M486 330.1L487.7 330.1" stroke="#8a8a8a" stroke-width="0.6" />
<text class="s" transform="translate(485.3 331.3) rotate(0.05)" font-size="3.2" fill="#333" text-anchor="end" >0</text>
<path d="M486 310.4L487.7 310.4" stroke="#8a8a8a" stroke-width="0.6" />
<text class="s" transform="translate(485.3 311.6) rotate(0.05)" font-size="3.2" fill="#333" text-anchor="end" >0.005</text>
<path d="M486 290.7L487.7 290.7" stroke="#8a8a8a" stroke-width="0.6" />
<text class="s" transform="translate(485.3 291.9) rotate(0.05)" font-size="3.2" fill="#333" text-anchor="end" >0.01</text>
<path d="M486.8 399.05L487.7 399.05" stroke="#9a9a9a" stroke-width="0.5" />
<path d="M486.8 379.35L487.7 379.35" stroke="#9a9a9a" stroke-width="0.5" />
<path d="M486.8 359.65L487.7 359.65" stroke="#9a9a9a" stroke-width="0.5" />
<path d="M486.8 339.95L487.7 339.95" stroke="#9a9a9a" stroke-width="0.5" />
<path d="M486.8 320.25L487.7 320.25" stroke="#9a9a9a" stroke-width="0.5" />
<path d="M486.8 300.55L487.7 300.55" stroke="#9a9a9a" stroke-width="0.5" />
<path d="M486.8 280.85L487.7 280.85" stroke="#9a9a9a" stroke-width="0.5" />
<linearGradient id="g8" gradientUnits="userSpaceOnUse" x1="490.0" y1="324.0" x2="511.3" y2="401.9"><stop offset="0" stop-color="#20b49b"/><stop offset="1" stop-color="#b8bb1e"/></linearGradient>
<path d="M490.0 324.0L511.3 401.9" stroke="url(#g8)" stroke-width="0.75" stroke-linecap="round"/>
<linearGradient id="g9" gradientUnits="userSpaceOnUse" x1="511.3" y1="401.9" x2="532.6" y2="364.7"><stop offset="0" stop-color="#b8bb1e"/><stop offset="1" stop-color="#7cc71f"/></linearGradient>
<path d="M511.3 401.9L532.6 364.7" stroke="url(#g9)" stroke-width="0.75" stroke-linecap="round"/>
<linearGradient id="g10" gradientUnits="userSpaceOnUse" x1="532.6" y1="364.7" x2="554.3" y2="305.1"><stop offset="0" stop-color="#7cc71f"/><stop offset="1" stop-color="#58c521"/></linearGradient>
<path d="M532.6 364.7L554.3 305.1" stroke="url(#g10)" stroke-width="0.75" stroke-linecap="round"/>
<linearGradient id="g11" gradientUnits="userSpaceOnUse" x1="554.3" y1="305.1" x2="575.7" y2="335.1"><stop offset="0" stop-color="#58c521"/><stop offset="1" stop-color="#20b68e"/></linearGradient>
<path d="M554.3 305.1L575.7 335.1" stroke="url(#g11)" stroke-width="0.75" stroke-linecap="round"/>
<linearGradient id="g12" gradientUnits="userSpaceOnUse" x1="575.7" y1="335.1" x2="597.0" y2="279.9"><stop offset="0" stop-color="#20b68e"/><stop offset="1" stop-color="#e1481e"/></linearGradient>
<path d="M575.7 335.1L597.0 279.9" stroke="url(#g12)" stroke-width="0.75" stroke-linecap="round"/>
<linearGradient id="g13" gradientUnits="userSpaceOnUse" x1="597.0" y1="279.9" x2="618.5" y2="297.6"><stop offset="0" stop-color="#e1481e"/><stop offset="1" stop-color="#acbe1e"/></linearGradient>
<path d="M597.0 279.9L618.5 297.6" stroke="url(#g13)" stroke-width="0.75" stroke-linecap="round"/>
<path d="M490 408.2L490 409.8" stroke="#9a9a9a" stroke-width="0.6" />
<text class="s" transform="translate(492.6 422) rotate(-89.95) scale(0.875 1)" font-size="8.1" fill="#2e2e2e" text-anchor="middle" stroke="#2e2e2e" stroke-width="0.3">0.90</text>
<path d="M511.3 408.2L511.3 409.8" stroke="#9a9a9a" stroke-width="0.6" />
<text class="s" transform="translate(514.7 422) rotate(-89.95) scale(0.875 1)" font-size="8.1" fill="#2e2e2e" text-anchor="middle" stroke="#2e2e2e" stroke-width="0.3">1.30</text>
<path d="M532.6 408.2L532.6 409.8" stroke="#9a9a9a" stroke-width="0.6" />
<text class="s" transform="translate(536.1 422) rotate(-89.95) scale(0.875 1)" font-size="8.1" fill="#2e2e2e" text-anchor="middle" stroke="#2e2e2e" stroke-width="0.3">1.60</text>
<path d="M554.3 408.2L554.3 409.8" stroke="#9a9a9a" stroke-width="0.6" />
<text class="s" transform="translate(557.8 422) rotate(-89.95) scale(0.875 1)" font-size="8.1" fill="#2e2e2e" text-anchor="middle" stroke="#2e2e2e" stroke-width="0.3">2.03</text>
<path d="M575.7 408.2L575.7 409.8" stroke="#9a9a9a" stroke-width="0.6" />
<text class="s" transform="translate(579.2 422) rotate(-89.95) scale(0.875 1)" font-size="8.1" fill="#2e2e2e" text-anchor="middle" stroke="#2e2e2e" stroke-width="0.3">2.25</text>
<path d="M597 408.2L597 409.8" stroke="#9a9a9a" stroke-width="0.6" />
<text class="s" transform="translate(600.5 422) rotate(-89.95) scale(0.875 1)" font-size="8.1" fill="#2e2e2e" text-anchor="middle" stroke="#2e2e2e" stroke-width="0.3">2.78</text>
<path d="M618.5 408.2L618.5 409.8" stroke="#9a9a9a" stroke-width="0.6" />
<text class="s" transform="translate(620.9 422) rotate(-89.95) scale(0.875 1)" font-size="8.1" fill="#2e2e2e" text-anchor="middle" stroke="#2e2e2e" stroke-width="0.3">5.30</text>
<text class="s" transform="translate(477.85 337) rotate(-89.95) scale(0.9 1)" font-size="3.1" fill="#333" text-anchor="middle" >p(corr)[1]</text>
<linearGradient id="g14" x1="0" y1="0" x2="0" y2="1"><stop offset="0" stop-color="#e2301f"/><stop offset="0.1" stop-color="#e0601c"/><stop offset="0.2" stop-color="#dc9a1e"/><stop offset="0.3" stop-color="#c4b81e"/><stop offset="0.4" stop-color="#88c81e"/><stop offset="0.5" stop-color="#4cc422"/><stop offset="0.6" stop-color="#24bf3a"/><stop offset="0.7" stop-color="#1fbb78"/><stop offset="0.8" stop-color="#20b2a4"/><stop offset="0.9" stop-color="#2494b4"/><stop offset="1" stop-color="#2678b8"/></linearGradient>
<rect x="623.9" y="261.5" width="3.9" height="172.8" fill="url(#g14)"/>
<text class="s" transform="translate(628.5 297.26) rotate(0.05)" font-size="2.9" fill="#111" >0.8</text>
<text class="s" transform="translate(628.5 331.82) rotate(0.05)" font-size="2.9" fill="#111" >0.6</text>
<text class="s" transform="translate(628.5 366.38) rotate(0.05)" font-size="2.9" fill="#111" >0.4</text>
<text class="s" transform="translate(628.5 400.94) rotate(0.05)" font-size="2.9" fill="#111" >0.2</text>
<text class="s" transform="translate(628.5 435.5) rotate(0.05)" font-size="2.9" fill="#111" >0</text>
<text class="s" transform="translate(623.2 259.8) rotate(0.05) scale(0.95 1)" font-size="3.45" fill="#111" >M1.abs(p(corr)[1])</text>
<g clip-path="url(#c4)">
<text class="m" transform="translate(533 437.2) rotate(0.05)" font-size="3.35" fill="#000" >R2X[1] = 0.146</text>
</g>
<text class="m" transform="translate(547.9 259.6) rotate(0.05)" font-size="3.1" fill="#000" text-anchor="middle" >NDAAA-MCD.M7 (OPLS-DA), S-LINE</text>
<rect x="469.35" y="253.5" width="182.85" height="183.9" fill="none" stroke="#505050" stroke-width="0.95"/>
<clipPath id="c5"><rect x="30.25" y="482.7" width="186.35" height="182.6"/></clipPath>
<rect x="45.3" y="485.0" width="157.7" height="163.7" fill="#f3f3f3"/>
<ellipse cx="123.9" cy="546.3" rx="73.85" ry="55.0" fill="#fff"/>
<path d="M65.1 485L65.1 648.7" stroke="#e4e4e4" stroke-width="0.6" />
<path d="M84.8 485L84.8 648.7" stroke="#e4e4e4" stroke-width="0.6" />
<path d="M104.5 485L104.5 648.7" stroke="#e4e4e4" stroke-width="0.6" />
<path d="M143.9 485L143.9 648.7" stroke="#e4e4e4" stroke-width="0.6" />
<path d="M163.6 485L163.6 648.7" stroke="#e4e4e4" stroke-width="0.6" />
<path d="M183.3 485L183.3 648.7" stroke="#e4e4e4" stroke-width="0.6" />
<path d="M45.3 628L203 628" stroke="#e4e4e4" stroke-width="0.6" />
<path d="M45.3 607.6L203 607.6" stroke="#e4e4e4" stroke-width="0.6" />
<path d="M45.3 587.2L203 587.2" stroke="#e4e4e4" stroke-width="0.6" />
<path d="M45.3 566.8L203 566.8" stroke="#e4e4e4" stroke-width="0.6" />
<path d="M45.3 526L203 526" stroke="#e4e4e4" stroke-width="0.6" />
<path d="M45.3 505.6L203 505.6" stroke="#e4e4e4" stroke-width="0.6" />
<path d="M124.5 485L124.5 648.7" stroke="#b0b0b0" stroke-width="0.8" />
<path d="M45.3 546.5L203 546.5" stroke="#b0b0b0" stroke-width="0.8" />
<ellipse cx="123.9" cy="546.3" rx="73.85" ry="55.0" fill="none" stroke="#949494" stroke-width="0.5"/>
<path d="M45.3 487L45.3 648.7" stroke="#909090" stroke-width="0.65" />
<path d="M45.3 648.7L201 648.7" stroke="#909090" stroke-width="0.65" />
<path d="M44 489.4L45.3 485.5L46.6 489.4Z" fill="#6a6a6a"/>
<path d="M198.4 647.4L202.4 648.7L198.4 650Z" fill="#6a6a6a"/>
<path d="M45.4 648.7L45.4 650.4" stroke="#909090" stroke-width="0.6" />
<text class="s" transform="translate(45.4 654.4) rotate(0.05)" font-size="3.6" fill="#222" text-anchor="middle" >-4</text>
<path d="M65.1 648.7L65.1 650.4" stroke="#909090" stroke-width="0.6" />
<text class="s" transform="translate(65.1 654.4) rotate(0.05)" font-size="3.6" fill="#222" text-anchor="middle" >-3</text>
<path d="M84.8 648.7L84.8 650.4" stroke="#909090" stroke-width="0.6" />
<text class="s" transform="translate(84.8 654.4) rotate(0.05)" font-size="3.6" fill="#222" text-anchor="middle" >-2</text>
<path d="M104.5 648.7L104.5 650.4" stroke="#909090" stroke-width="0.6" />
<text class="s" transform="translate(104.5 654.4) rotate(0.05)" font-size="3.6" fill="#222" text-anchor="middle" >-1</text>
<path d="M124.2 648.7L124.2 650.4" stroke="#909090" stroke-width="0.6" />
<text class="s" transform="translate(124.2 654.4) rotate(0.05)" font-size="3.6" fill="#222" text-anchor="middle" >0</text>
<path d="M143.9 648.7L143.9 650.4" stroke="#909090" stroke-width="0.6" />
<text class="s" transform="translate(143.9 654.4) rotate(0.05)" font-size="3.6" fill="#222" text-anchor="middle" >1</text>
<path d="M163.6 648.7L163.6 650.4" stroke="#909090" stroke-width="0.6" />
<text class="s" transform="translate(163.6 654.4) rotate(0.05)" font-size="3.6" fill="#222" text-anchor="middle" >2</text>
<path d="M183.3 648.7L183.3 650.4" stroke="#909090" stroke-width="0.6" />
<text class="s" transform="translate(183.3 654.4) rotate(0.05)" font-size="3.6" fill="#222" text-anchor="middle" >3</text>
<path d="M55.25 648.7L55.25 649.6" stroke="#909090" stroke-width="0.5" />
<path d="M74.95 648.7L74.95 649.6" stroke="#909090" stroke-width="0.5" />
<path d="M94.65 648.7L94.65 649.6" stroke="#909090" stroke-width="0.5" />
<path d="M114.35 648.7L114.35 649.6" stroke="#909090" stroke-width="0.5" />
<path d="M134.05 648.7L134.05 649.6" stroke="#909090" stroke-width="0.5" />
<path d="M153.75 648.7L153.75 649.6" stroke="#909090" stroke-width="0.5" />
<path d="M173.45 648.7L173.45 649.6" stroke="#909090" stroke-width="0.5" />
<path d="M193.15 648.7L193.15 649.6" stroke="#909090" stroke-width="0.5" />
<path d="M43.6 648.4L45.3 648.4" stroke="#909090" stroke-width="0.6" />
<text class="s" transform="translate(42.8 649.7) rotate(0.05)" font-size="3.6" fill="#222" text-anchor="end" >-10</text>
<path d="M43.6 628L45.3 628" stroke="#909090" stroke-width="0.6" />
<text class="s" transform="translate(42.8 629.3) rotate(0.05)" font-size="3.6" fill="#222" text-anchor="end" >-8</text>
<path d="M43.6 607.6L45.3 607.6" stroke="#909090" stroke-width="0.6" />
<text class="s" transform="translate(42.8 608.9) rotate(0.05)" font-size="3.6" fill="#222" text-anchor="end" >-6</text>
<path d="M43.6 587.2L45.3 587.2" stroke="#909090" stroke-width="0.6" />
<text class="s" transform="translate(42.8 588.5) rotate(0.05)" font-size="3.6" fill="#222" text-anchor="end" >-4</text>
<path d="M43.6 566.8L45.3 566.8" stroke="#909090" stroke-width="0.6" />
<text class="s" transform="translate(42.8 568.1) rotate(0.05)" font-size="3.6" fill="#222" text-anchor="end" >-2</text>
<path d="M43.6 546.4L45.3 546.4" stroke="#909090" stroke-width="0.6" />
<text class="s" transform="translate(42.8 547.7) rotate(0.05)" font-size="3.6" fill="#222" text-anchor="end" >0</text>
<path d="M43.6 526L45.3 526" stroke="#909090" stroke-width="0.6" />
<text class="s" transform="translate(42.8 527.3) rotate(0.05)" font-size="3.6" fill="#222" text-anchor="end" >2</text>
<path d="M43.6 505.6L45.3 505.6" stroke="#909090" stroke-width="0.6" />
<text class="s" transform="translate(42.8 506.9) rotate(0.05)" font-size="3.6" fill="#222" text-anchor="end" >4</text>
<path d="M44.4 638.2L45.3 638.2" stroke="#909090" stroke-width="0.5" />
<path d="M44.4 617.8L45.3 617.8" stroke="#909090" stroke-width="0.5" />
<path d="M44.4 597.4L45.3 597.4" stroke="#909090" stroke-width="0.5" />
<path d="M44.4 577L45.3 577" stroke="#909090" stroke-width="0.5" />
<path d="M44.4 556.6L45.3 556.6" stroke="#909090" stroke-width="0.5" />
<path d="M44.4 536.2L45.3 536.2" stroke="#909090" stroke-width="0.5" />
<path d="M44.4 515.8L45.3 515.8" stroke="#909090" stroke-width="0.5" />
<path d="M44.4 495.4L45.3 495.4" stroke="#909090" stroke-width="0.5" />
<circle cx="80.4" cy="534.3" r="1.9" fill="#4caf50" stroke="#379a3e" stroke-width="0.55"/>
<circle cx="89.9" cy="534.4" r="1.9" fill="#4caf50" stroke="#379a3e" stroke-width="0.55"/>
<circle cx="94.4" cy="534.7" r="1.9" fill="#4caf50" stroke="#379a3e" stroke-width="0.55"/>
<circle cx="98.1" cy="536.3" r="1.9" fill="#4caf50" stroke="#379a3e" stroke-width="0.55"/>
<circle cx="94.1" cy="538.9" r="1.9" fill="#4caf50" stroke="#379a3e" stroke-width="0.55"/>
<circle cx="100.5" cy="538.8" r="1.9" fill="#4caf50" stroke="#379a3e" stroke-width="0.55"/>
<circle cx="103.7" cy="540.8" r="1.9" fill="#4caf50" stroke="#379a3e" stroke-width="0.55"/>
<circle cx="106.6" cy="541.0" r="1.9" fill="#4caf50" stroke="#379a3e" stroke-width="0.55"/>
<circle cx="110.3" cy="540.5" r="1.9" fill="#4caf50" stroke="#379a3e" stroke-width="0.55"/>
<circle cx="122.3" cy="540.5" r="1.9" fill="#4caf50" stroke="#379a3e" stroke-width="0.55"/>
<circle cx="123.3" cy="553.0" r="1.9" fill="#4caf50" stroke="#379a3e" stroke-width="0.55"/>
<circle cx="92.1" cy="642.7" r="1.9" fill="#4caf50" stroke="#379a3e" stroke-width="0.55"/>
<circle cx="138.3" cy="538.6" r="1.9" fill="#3f51b5" stroke="#2736a4" stroke-width="0.55"/>
<circle cx="135.7" cy="541.3" r="1.9" fill="#3f51b5" stroke="#2736a4" stroke-width="0.55"/>
<circle cx="139.9" cy="542.4" r="1.9" fill="#3f51b5" stroke="#2736a4" stroke-width="0.55"/>
<circle cx="149.3" cy="546.5" r="1.9" fill="#3f51b5" stroke="#2736a4" stroke-width="0.55"/>
<circle cx="151.0" cy="545.8" r="1.9" fill="#3f51b5" stroke="#2736a4" stroke-width="0.55"/>
<circle cx="153.7" cy="544.9" r="1.9" fill="#3f51b5" stroke="#2736a4" stroke-width="0.55"/>
<circle cx="155.0" cy="546.9" r="1.9" fill="#3f51b5" stroke="#2736a4" stroke-width="0.55"/>
<circle cx="159.5" cy="550.3" r="1.9" fill="#3f51b5" stroke="#2736a4" stroke-width="0.55"/>
<circle cx="159.5" cy="550.3" r="1.9" fill="#3f51b5" stroke="#2736a4" stroke-width="0.55"/>
<circle cx="171.7" cy="549.4" r="1.9" fill="#3f51b5" stroke="#2736a4" stroke-width="0.55"/>
<circle cx="155.0" cy="559.0" r="1.9" fill="#3f51b5" stroke="#2736a4" stroke-width="0.55"/>
<text class="s" transform="translate(78.5 536.05) rotate(0.05) scale(0.78 1)" font-size="4.0" fill="#4ba34e" text-anchor="end" >CCl4_14</text>
<text class="s" transform="translate(88.9 532.4) rotate(0.05) scale(0.78 1)" font-size="4.0" fill="#4ba34e" text-anchor="middle" >CCl4_9</text>
<text class="s" transform="translate(95.4 532.1) rotate(0.05) scale(0.78 1)" font-size="4.0" fill="#4ba34e" >CCl4_13</text>
<text class="s" transform="translate(100.6 533.1) rotate(0.05) scale(0.78 1)" font-size="4.0" fill="#4ba34e" >CCl4_5</text>
<text class="s" transform="translate(93.6 538.4) rotate(0.05) scale(0.78 1)" font-size="4.0" fill="#4ba34e" text-anchor="end" >CCl4_7</text>
<text class="s" transform="translate(103 537) rotate(0.05) scale(0.78 1)" font-size="4.0" fill="#4ba34e" >CCl4_21</text>
<text class="s" transform="translate(92.5 545) rotate(0.05) scale(0.78 1)" font-size="4.0" fill="#4ba34e" text-anchor="end" >CCl4_16</text>
<text class="s" transform="translate(103.6 546.6) rotate(0.05) scale(0.78 1)" font-size="4.0" fill="#4ba34e" text-anchor="middle" >CCl4_10</text>
<text class="s" transform="translate(112.7 542.25) rotate(0.05) scale(0.78 1)" font-size="4.0" fill="#4ba34e" >CCl4_24</text>
<text class="s" transform="translate(121.3 538.5) rotate(0.05) scale(0.78 1)" font-size="4.0" fill="#4ba34e" text-anchor="middle" >CCl4_6</text>
<text class="s" transform="translate(125.7 554.75) rotate(0.05) scale(0.78 1)" font-size="4.0" fill="#4ba34e" >CCl4_3</text>
<text class="s" transform="translate(94.5 644.45) rotate(0.05) scale(0.78 1)" font-size="4.0" fill="#4ba34e" >CCl4_11</text>
<text class="s" transform="translate(138.3 535.2) rotate(0.05) scale(0.78 1)" font-size="4.0" fill="#4755ad" text-anchor="middle" >MCD_6</text>
<text class="s" transform="translate(133.8 543.05) rotate(0.05) scale(0.78 1)" font-size="4.0" fill="#4755ad" text-anchor="end" >MCD_9</text>
<text class="s" transform="translate(136.9 548.7) rotate(0.05) scale(0.78 1)" font-size="4.0" fill="#4755ad" text-anchor="end" >MCD_4</text>
<text class="s" transform="translate(147.4 548.25) rotate(0.05) scale(0.78 1)" font-size="4.0" fill="#4755ad" text-anchor="end" >MCD_8</text>
<text class="s" transform="translate(137 544.3) rotate(0.05) scale(0.78 1)" font-size="4.0" fill="#4755ad" >MCD_2</text>
<text class="s" transform="translate(152.7 542.9) rotate(0.05) scale(0.78 1)" font-size="4.0" fill="#4755ad" text-anchor="middle" >MCD_5</text>
<text class="s" transform="translate(157.4 547.2) rotate(0.05) scale(0.78 1)" font-size="4.0" fill="#4755ad" >MCD_3</text>
<text class="s" transform="translate(155.1 553.2) rotate(0.05) scale(0.78 1)" font-size="4.0" fill="#4755ad" text-anchor="end" >MCD_7</text>
<text class="s" transform="translate(161 556) rotate(0.05) scale(0.78 1)" font-size="4.0" fill="#4755ad" >MCD_10</text>
<text class="s" transform="translate(174.1 551.15) rotate(0.05) scale(0.78 1)" font-size="4.0" fill="#4755ad" >MCD_11</text>
<text class="s" transform="translate(153.1 560.75) rotate(0.05) scale(0.78 1)" font-size="4.0" fill="#4755ad" text-anchor="end" >MCD_12</text>
<text class="s" transform="translate(124.5 660.3) rotate(0.05) scale(0.9 1)" font-size="3.3" fill="#2a2a2a" text-anchor="middle" >1.00333 * t[1]</text>
<text class="s" transform="translate(36.65 566.85) rotate(-89.95) scale(0.9 1)" font-size="3.3" fill="#2a2a2a" text-anchor="middle" >1.00736 * to[1]</text>
<g clip-path="url(#c5)">
<text class="m" transform="translate(28.25 664.05) rotate(0.05)" font-size="3.35" fill="#000" >R2X[1] = 0.261</text>
<text class="m" transform="translate(88.55 664.05) rotate(0.05)" font-size="3.35" fill="#000" >R2Xo[1] = 0.341</text>
<text class="m" transform="translate(210.6 664.05) rotate(0.05)" font-size="3.35" fill="#000" text-anchor="end" >Ellipse: Hotelling's T2 (95%)</text>
</g>
<rect x="30.25" y="482.7" width="186.35" height="182.6" fill="none" stroke="#505050" stroke-width="0.95"/>
<path d="M261.8 606.25L440.1 606.25" stroke="#ececec" stroke-width="0.7" />
<path d="M261.8 575.9L440.1 575.9" stroke="#ececec" stroke-width="0.7" />
<path d="M261.8 545.55L440.1 545.55" stroke="#ececec" stroke-width="0.7" />
<path d="M261.8 515.2L440.1 515.2" stroke="#ececec" stroke-width="0.7" />
<path d="M261.8 487.3L261.8 636.6" stroke="#9c9c9c" stroke-width="0.7" />
<path d="M261.8 636.6L440.1 636.6" stroke="#b4b4b4" stroke-width="0.7" />
<path d="M260.7 488.9L261.8 485.3L262.9 488.9Z" fill="#777"/>
<path d="M260.1 636.6L261.8 636.6" stroke="#8a8a8a" stroke-width="0.6" />
<text class="s" transform="translate(259.4 637.85) rotate(0.05)" font-size="3.4" fill="#333" text-anchor="end" >0</text>
<path d="M260.1 606.25L261.8 606.25" stroke="#8a8a8a" stroke-width="0.6" />
<text class="s" transform="translate(259.4 607.5) rotate(0.05)" font-size="3.4" fill="#333" text-anchor="end" >0.5</text>
<path d="M260.1 575.9L261.8 575.9" stroke="#8a8a8a" stroke-width="0.6" />
<text class="s" transform="translate(259.4 577.15) rotate(0.05)" font-size="3.4" fill="#333" text-anchor="end" >1</text>
<path d="M260.1 545.55L261.8 545.55" stroke="#8a8a8a" stroke-width="0.6" />
<text class="s" transform="translate(259.4 546.8) rotate(0.05)" font-size="3.4" fill="#333" text-anchor="end" >1.5</text>
<path d="M260.1 515.2L261.8 515.2" stroke="#8a8a8a" stroke-width="0.6" />
<text class="s" transform="translate(259.4 516.45) rotate(0.05)" font-size="3.4" fill="#333" text-anchor="end" >2</text>
<path d="M260.9 621.43L261.8 621.43" stroke="#9a9a9a" stroke-width="0.5" />
<path d="M260.9 591.08L261.8 591.08" stroke="#9a9a9a" stroke-width="0.5" />
<path d="M260.9 560.73L261.8 560.73" stroke="#9a9a9a" stroke-width="0.5" />
<path d="M260.9 530.38L261.8 530.38" stroke="#9a9a9a" stroke-width="0.5" />
<path d="M260.9 500.02L261.8 500.02" stroke="#9a9a9a" stroke-width="0.5" />
<rect x="262.9" y="549.1" width="22.8" height="87.5" fill="#4caf50"/>
<rect x="288.3" y="569.9" width="22.7" height="66.7" fill="#4caf50"/>
<rect x="313.9" y="574.8" width="22.9" height="61.8" fill="#4caf50"/>
<rect x="339.5" y="578.2" width="22.7" height="58.4" fill="#4caf50"/>
<rect x="365.1" y="584" width="22.7" height="52.6" fill="#4caf50"/>
<rect x="390.6" y="593.2" width="22.8" height="43.4" fill="#4caf50"/>
<rect x="416.3" y="595.7" width="22.7" height="40.9" fill="#4caf50"/>
<path d="M274.2 514.5L274.2 549.1" stroke="#969696" stroke-width="0.62" />
<path d="M274.2 549.1L274.2 583.4" stroke="#3e9143" stroke-width="0.62" />
<path d="M267.6 514.5L280.8 514.5" stroke="#969696" stroke-width="0.62" />
<path d="M267.6 583.4L280.8 583.4" stroke="#3e9143" stroke-width="0.62" />
<path d="M299.7 514.1L299.7 569.9" stroke="#969696" stroke-width="0.62" />
<path d="M299.7 569.9L299.7 625.4" stroke="#3e9143" stroke-width="0.62" />
<path d="M293.1 514.1L306.3 514.1" stroke="#969696" stroke-width="0.62" />
<path d="M293.1 625.4L306.3 625.4" stroke="#3e9143" stroke-width="0.62" />
<path d="M325.4 551.2L325.4 574.8" stroke="#969696" stroke-width="0.62" />
<path d="M325.4 574.8L325.4 598.1" stroke="#3e9143" stroke-width="0.62" />
<path d="M318.8 551.2L332 551.2" stroke="#969696" stroke-width="0.62" />
<path d="M318.8 598.1L332 598.1" stroke="#3e9143" stroke-width="0.62" />
<path d="M350.9 551.2L350.9 578.2" stroke="#969696" stroke-width="0.62" />
<path d="M350.9 578.2L350.9 604.9" stroke="#3e9143" stroke-width="0.62" />
<path d="M344.3 551.2L357.5 551.2" stroke="#969696" stroke-width="0.62" />
<path d="M344.3 604.9L357.5 604.9" stroke="#3e9143" stroke-width="0.62" />
<path d="M376.3 579.1L376.3 584" stroke="#969696" stroke-width="0.62" />
<path d="M376.3 584L376.3 588.9" stroke="#3e9143" stroke-width="0.62" />
<path d="M369.7 579.1L382.9 579.1" stroke="#969696" stroke-width="0.62" />
<path d="M369.7 588.9L382.9 588.9" stroke="#3e9143" stroke-width="0.62" />
<path d="M402.1 578.2L402.1 593.2" stroke="#969696" stroke-width="0.62" />
<path d="M402.1 593.2L402.1 608" stroke="#3e9143" stroke-width="0.62" />
<path d="M395.5 578.2L408.7 578.2" stroke="#969696" stroke-width="0.62" />
<path d="M395.5 608L408.7 608" stroke="#3e9143" stroke-width="0.62" />
<path d="M427.5 572.4L427.5 595.7" stroke="#969696" stroke-width="0.62" />
<path d="M427.5 595.7L427.5 618.4" stroke="#3e9143" stroke-width="0.62" />
<path d="M420.9 572.4L434.1 572.4" stroke="#969696" stroke-width="0.62" />
<path d="M420.9 618.4L434.1 618.4" stroke="#3e9143" stroke-width="0.62" />
<path d="M274.2 636.6L274.2 638.2" stroke="#9a9a9a" stroke-width="0.6" />
<text class="s" transform="translate(276.4 649.9) rotate(-89.95) scale(0.875 1)" font-size="8.1" fill="#2e2e2e" text-anchor="middle" stroke="#2e2e2e" stroke-width="0.3">2.78</text>
<path d="M299.7 636.6L299.7 638.2" stroke="#9a9a9a" stroke-width="0.6" />
<text class="s" transform="translate(301.9 649.9) rotate(-89.95) scale(0.875 1)" font-size="8.1" fill="#2e2e2e" text-anchor="middle" stroke="#2e2e2e" stroke-width="0.3">0.90</text>
<path d="M325.4 636.6L325.4 638.2" stroke="#9a9a9a" stroke-width="0.6" />
<text class="s" transform="translate(327.6 649.9) rotate(-89.95) scale(0.875 1)" font-size="8.1" fill="#2e2e2e" text-anchor="middle" stroke="#2e2e2e" stroke-width="0.3">1.60</text>
<path d="M350.9 636.6L350.9 638.2" stroke="#9a9a9a" stroke-width="0.6" />
<text class="s" transform="translate(353.1 649.9) rotate(-89.95) scale(0.875 1)" font-size="8.1" fill="#2e2e2e" text-anchor="middle" stroke="#2e2e2e" stroke-width="0.3">5.30</text>
<path d="M376.3 636.6L376.3 638.2" stroke="#9a9a9a" stroke-width="0.6" />
<text class="s" transform="translate(378.5 649.9) rotate(-89.95) scale(0.875 1)" font-size="8.1" fill="#2e2e2e" text-anchor="middle" stroke="#2e2e2e" stroke-width="0.3">1.30</text>
<path d="M402.1 636.6L402.1 638.2" stroke="#9a9a9a" stroke-width="0.6" />
<text class="s" transform="translate(404.3 649.9) rotate(-89.95) scale(0.875 1)" font-size="8.1" fill="#2e2e2e" text-anchor="middle" stroke="#2e2e2e" stroke-width="0.3">2.03</text>
<path d="M427.5 636.6L427.5 638.2" stroke="#9a9a9a" stroke-width="0.6" />
<text class="s" transform="translate(429.7 649.9) rotate(-89.95) scale(0.875 1)" font-size="8.1" fill="#2e2e2e" text-anchor="middle" stroke="#2e2e2e" stroke-width="0.3">2.25</text>
<text class="s" transform="translate(254.45 562) rotate(-89.95) scale(0.9 1)" font-size="3.4" fill="#222" text-anchor="middle" >VIP[1+1+0]</text>
<rect x="246.55" y="482.7" width="199.35" height="182.7" fill="none" stroke="#505050" stroke-width="0.95"/>
<clipPath id="c6"><rect x="475.8" y="482.7" width="182.7" height="179.9"/></clipPath>
<path d="M494.7 620.22L627 620.22" stroke="#ececec" stroke-width="0.7" />
<path d="M494.7 605.19L627 605.19" stroke="#ececec" stroke-width="0.7" />
<path d="M494.7 590.16L627 590.16" stroke="#ececec" stroke-width="0.7" />
<path d="M494.7 575.13L627 575.13" stroke="#ececec" stroke-width="0.7" />
<path d="M494.7 545.07L627 545.07" stroke="#ececec" stroke-width="0.7" />
<path d="M494.7 530.04L627 530.04" stroke="#ececec" stroke-width="0.7" />
<path d="M494.7 515.01L627 515.01" stroke="#ececec" stroke-width="0.7" />
<path d="M494.7 560.1L627 560.1" stroke="#a0a0a0" stroke-width="0.7" />
<path d="M494.7 503.3L494.7 635.2" stroke="#9c9c9c" stroke-width="0.7" />
<path d="M494.7 635.2L627 635.2" stroke="#b4b4b4" stroke-width="0.7" />
<path d="M493.6 504.9L494.7 501.3L495.8 504.9Z" fill="#777"/>
<path d="M493 635.25L494.7 635.25" stroke="#8a8a8a" stroke-width="0.6" />
<text class="s" transform="translate(492.3 636.45) rotate(0.05)" font-size="3.2" fill="#333" text-anchor="end" >-0.025</text>
<path d="M493 620.22L494.7 620.22" stroke="#8a8a8a" stroke-width="0.6" />
<text class="s" transform="translate(492.3 621.42) rotate(0.05)" font-size="3.2" fill="#333" text-anchor="end" >-0.02</text>
<path d="M493 605.19L494.7 605.19" stroke="#8a8a8a" stroke-width="0.6" />
<text class="s" transform="translate(492.3 606.39) rotate(0.05)" font-size="3.2" fill="#333" text-anchor="end" >-0.015</text>
<path d="M493 590.16L494.7 590.16" stroke="#8a8a8a" stroke-width="0.6" />
<text class="s" transform="translate(492.3 591.36) rotate(0.05)" font-size="3.2" fill="#333" text-anchor="end" >-0.01</text>
<path d="M493 575.13L494.7 575.13" stroke="#8a8a8a" stroke-width="0.6" />
<text class="s" transform="translate(492.3 576.33) rotate(0.05)" font-size="3.2" fill="#333" text-anchor="end" >-0.005</text>
<path d="M493 560.1L494.7 560.1" stroke="#8a8a8a" stroke-width="0.6" />
<text class="s" transform="translate(492.3 561.3) rotate(0.05)" font-size="3.2" fill="#333" text-anchor="end" >0</text>
<path d="M493 545.07L494.7 545.07" stroke="#8a8a8a" stroke-width="0.6" />
<text class="s" transform="translate(492.3 546.27) rotate(0.05)" font-size="3.2" fill="#333" text-anchor="end" >0.005</text>
<path d="M493 530.04L494.7 530.04" stroke="#8a8a8a" stroke-width="0.6" />
<text class="s" transform="translate(492.3 531.24) rotate(0.05)" font-size="3.2" fill="#333" text-anchor="end" >0.01</text>
<path d="M493 515.01L494.7 515.01" stroke="#8a8a8a" stroke-width="0.6" />
<text class="s" transform="translate(492.3 516.21) rotate(0.05)" font-size="3.2" fill="#333" text-anchor="end" >0.015</text>
<path d="M493.8 627.74L494.7 627.74" stroke="#9a9a9a" stroke-width="0.5" />
<path d="M493.8 612.71L494.7 612.71" stroke="#9a9a9a" stroke-width="0.5" />
<path d="M493.8 597.68L494.7 597.68" stroke="#9a9a9a" stroke-width="0.5" />
<path d="M493.8 582.64L494.7 582.64" stroke="#9a9a9a" stroke-width="0.5" />
<path d="M493.8 567.62L494.7 567.62" stroke="#9a9a9a" stroke-width="0.5" />
<path d="M493.8 552.59L494.7 552.59" stroke="#9a9a9a" stroke-width="0.5" />
<path d="M493.8 537.56L494.7 537.56" stroke="#9a9a9a" stroke-width="0.5" />
<path d="M493.8 522.52L494.7 522.52" stroke="#9a9a9a" stroke-width="0.5" />
<linearGradient id="g15" gradientUnits="userSpaceOnUse" x1="496.3" y1="600.9" x2="517.5" y2="630.8"><stop offset="0" stop-color="#4cc422"/><stop offset="1" stop-color="#2cc035"/></linearGradient>
<path d="M496.3 600.9L517.5 630.8" stroke="url(#g15)" stroke-width="0.75" stroke-linecap="round"/>
<linearGradient id="g16" gradientUnits="userSpaceOnUse" x1="517.5" y1="630.8" x2="539.2" y2="531.6"><stop offset="0" stop-color="#2cc035"/><stop offset="1" stop-color="#6ac620"/></linearGradient>
<path d="M517.5 630.8L539.2 531.6" stroke="url(#g16)" stroke-width="0.75" stroke-linecap="round"/>
<linearGradient id="g17" gradientUnits="userSpaceOnUse" x1="539.2" y1="531.6" x2="560.6" y2="554.6"><stop offset="0" stop-color="#6ac620"/><stop offset="1" stop-color="#20b49b"/></linearGradient>
<path d="M539.2 531.6L560.6 554.6" stroke="url(#g17)" stroke-width="0.75" stroke-linecap="round"/>
<linearGradient id="g18" gradientUnits="userSpaceOnUse" x1="560.6" y1="554.6" x2="582.1" y2="559.5"><stop offset="0" stop-color="#20b49b"/><stop offset="1" stop-color="#2494b4"/></linearGradient>
<path d="M560.6 554.6L582.1 559.5" stroke="url(#g18)" stroke-width="0.75" stroke-linecap="round"/>
<linearGradient id="g19" gradientUnits="userSpaceOnUse" x1="582.1" y1="559.5" x2="603.6" y2="512.6"><stop offset="0" stop-color="#2494b4"/><stop offset="1" stop-color="#e0601c"/></linearGradient>
<path d="M582.1 559.5L603.6 512.6" stroke="url(#g19)" stroke-width="0.75" stroke-linecap="round"/>
<linearGradient id="g20" gradientUnits="userSpaceOnUse" x1="603.6" y1="512.6" x2="625.0" y2="529.5"><stop offset="0" stop-color="#e0601c"/><stop offset="1" stop-color="#88c81e"/></linearGradient>
<path d="M603.6 512.6L625.0 529.5" stroke="url(#g20)" stroke-width="0.75" stroke-linecap="round"/>
<path d="M496.3 635.2L496.3 636.8" stroke="#9a9a9a" stroke-width="0.6" />
<text class="s" transform="translate(498.7 645.1) rotate(-89.95) scale(0.875 1)" font-size="8.1" fill="#2e2e2e" text-anchor="middle" stroke="#2e2e2e" stroke-width="0.3">0.90</text>
<path d="M517.5 635.2L517.5 636.8" stroke="#9a9a9a" stroke-width="0.6" />
<text class="s" transform="translate(519.9 645.1) rotate(-89.95) scale(0.875 1)" font-size="8.1" fill="#2e2e2e" text-anchor="middle" stroke="#2e2e2e" stroke-width="0.3">1.30</text>
<path d="M539.2 635.2L539.2 636.8" stroke="#9a9a9a" stroke-width="0.6" />
<text class="s" transform="translate(541.6 645.1) rotate(-89.95) scale(0.875 1)" font-size="8.1" fill="#2e2e2e" text-anchor="middle" stroke="#2e2e2e" stroke-width="0.3">1.60</text>
<path d="M560.6 635.2L560.6 636.8" stroke="#9a9a9a" stroke-width="0.6" />
<text class="s" transform="translate(563 645.1) rotate(-89.95) scale(0.875 1)" font-size="8.1" fill="#2e2e2e" text-anchor="middle" stroke="#2e2e2e" stroke-width="0.3">2.03</text>
<path d="M582.1 635.2L582.1 636.8" stroke="#9a9a9a" stroke-width="0.6" />
<text class="s" transform="translate(584.5 645.1) rotate(-89.95) scale(0.875 1)" font-size="8.1" fill="#2e2e2e" text-anchor="middle" stroke="#2e2e2e" stroke-width="0.3">2.25</text>
<path d="M603.6 635.2L603.6 636.8" stroke="#9a9a9a" stroke-width="0.6" />
<text class="s" transform="translate(606 645.1) rotate(-89.95) scale(0.875 1)" font-size="8.1" fill="#2e2e2e" text-anchor="middle" stroke="#2e2e2e" stroke-width="0.3">2.78</text>
<path d="M625 635.2L625 636.8" stroke="#9a9a9a" stroke-width="0.6" />
<text class="s" transform="translate(626.6 645.1) rotate(-89.95) scale(0.875 1)" font-size="8.1" fill="#2e2e2e" text-anchor="middle" stroke="#2e2e2e" stroke-width="0.3">5.30</text>
<text class="s" transform="translate(484.3 566) rotate(-89.95) scale(0.9 1)" font-size="3.1" fill="#333" text-anchor="middle" >p(corr)[1]</text>
<linearGradient id="g21" x1="0" y1="0" x2="0" y2="1"><stop offset="0" stop-color="#e2301f"/><stop offset="0.1" stop-color="#e0601c"/><stop offset="0.2" stop-color="#dc9a1e"/><stop offset="0.3" stop-color="#c4b81e"/><stop offset="0.4" stop-color="#88c81e"/><stop offset="0.5" stop-color="#4cc422"/><stop offset="0.6" stop-color="#24bf3a"/><stop offset="0.7" stop-color="#1fbb78"/><stop offset="0.8" stop-color="#20b2a4"/><stop offset="0.9" stop-color="#2494b4"/><stop offset="1" stop-color="#2678b8"/></linearGradient>
<rect x="630.1" y="490.9" width="4.1" height="169.25" fill="url(#g21)"/>
<text class="s" transform="translate(634.9 525.95) rotate(0.05)" font-size="2.9" fill="#111" >0.8</text>
<text class="s" transform="translate(634.9 559.8) rotate(0.05)" font-size="2.9" fill="#111" >0.6</text>
<text class="s" transform="translate(634.9 593.65) rotate(0.05)" font-size="2.9" fill="#111" >0.4</text>
<text class="s" transform="translate(634.9 627.5) rotate(0.05)" font-size="2.9" fill="#111" >0.2</text>
<text class="s" transform="translate(634.9 661.35) rotate(0.05)" font-size="2.9" fill="#111" >0</text>
<text class="s" transform="translate(629.4 489.2) rotate(0.05) scale(0.95 1)" font-size="3.45" fill="#111" >M1.abs(p(corr)[1])</text>
<g clip-path="url(#c6)">
<text class="m" transform="translate(540 662.4) rotate(0.05)" font-size="3.35" fill="#000" >R2X[1] = 0.261</text>
</g>
<rect x="475.8" y="482.7" width="182.7" height="179.9" fill="none" stroke="#505050" stroke-width="0.95"/>
</svg>
</body></html>
